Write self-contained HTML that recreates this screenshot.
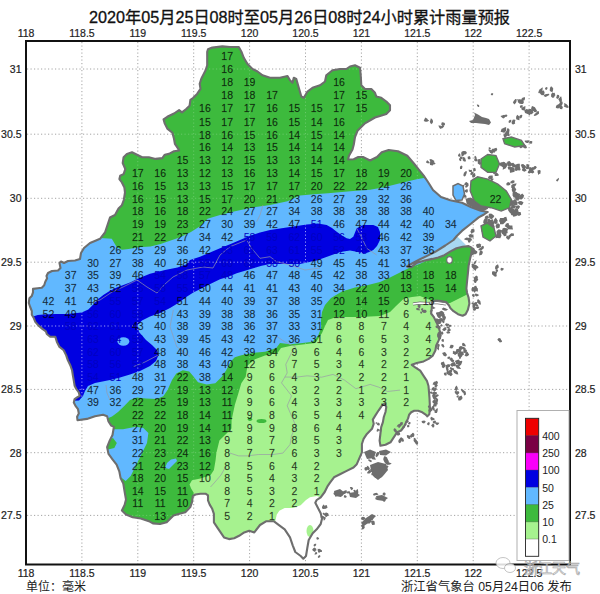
<!DOCTYPE html>
<html><head><meta charset="utf-8"><title>24小时累计雨量预报</title><style>
html,body{margin:0;padding:0;background:#fff;}body{width:600px;height:594px;overflow:hidden;position:relative;}
svg{position:absolute;left:0;top:0;display:block;}
.t{font-family:"Liberation Sans","Noto Sans CJK SC",sans-serif;}
.n text{fill:#000;fill-opacity:.74;stroke:#000;stroke-opacity:.35;stroke-width:.35px;}
.n text.d{fill:#0000c2;fill-opacity:1;stroke:none;}
</style></head><body>
<svg width="600" height="594" viewBox="0 0 600 594">
<defs>
<clipPath id="prov"><path d="M207.2,51.8 L208.0,49.3 L212.3,47.6 L222.4,46.4 L230.0,47.0 L238.8,47.0 L241.3,51.5 L243.8,57.8 L247.5,64.0 L252.5,69.0 L257.5,71.5 L262.5,75.3 L270.0,77.8 L280.0,77.8 L287.5,76.0 L290.0,80.3 L292.5,82.8 L293.8,77.8 L296.3,79.0 L298.8,87.8 L301.3,96.5 L303.8,97.8 L307.5,91.5 L312.5,87.8 L320.0,85.3 L325.0,81.5 L326.3,75.3 L332.5,70.3 L340.0,69.0 L346.3,69.0 L350.0,66.5 L355.0,65.3 L360.0,67.8 L360.8,76.5 L361.3,85.3 L365.0,89.0 L371.3,89.0 L375.0,92.8 L376.3,96.5 L381.3,97.8 L386.3,101.5 L390.0,105.3 L390.0,110.3 L386.3,114.0 L380.0,116.0 L375.0,117.5 L365.0,123.3 L357.5,130.8 L355.0,137.0 L353.8,144.5 L352.5,149.5 L349.0,155.8 L348.0,159.5 L353.7,159.3 L358.3,157.0 L363.0,157.0 L370.0,160.5 L377.0,157.0 L381.7,152.3 L388.7,150.0 L398.0,151.2 L407.3,155.8 L414.3,164.0 L419.0,169.8 L423.7,175.7 L428.0,182.0 L433.0,190.0 L441.0,197.0 L450.3,200.3 L462.0,202.7 L471.3,207.3 L480.7,210.8 L487.7,212.0 L484.0,214.5 L478.7,217.4 L470.3,224.2 L461.9,230.9 L456.8,236.0 L453.5,240.0 L445.3,245.5 L435.2,251.8 L427.6,255.6 L420.0,259.3 L412.0,263.5 L407.0,266.5 L411.1,267.3 L417.1,262.7 L424.7,260.5 L432.3,258.9 L438.3,257.4 L444.4,255.2 L450.5,251.4 L456.5,248.3 L462.6,246.8 L468.6,246.1 L471.7,247.6 L471.7,252.1 L470.2,258.2 L468.6,265.8 L467.9,273.3 L467.1,280.9 L466.4,288.5 L467.1,293.0 L468.6,297.6 L469.4,303.6 L467.9,309.7 L465.6,314.2 L462.6,315.8 L458.0,314.2 L453.5,311.2 L450.5,308.2 L448.9,305.2 L446.0,302.0 L441.0,301.0 L436.0,300.5 L432.0,302.0 L432.0,306.7 L431.1,313.5 L433.7,316.8 L436.2,321.9 L438.7,326.9 L440.4,333.7 L438.7,340.4 L436.2,345.5 L435.4,350.5 L432.8,355.6 L428.6,358.9 L423.6,361.4 L416.8,363.1 L411.8,364.8 L415.2,367.3 L420.2,370.7 L423.6,375.8 L426.9,380.8 L428.5,386.0 L429.0,392.0 L429.5,398.2 L429.8,404.2 L429.8,410.3 L429.3,414.3 L427.3,416.4 L425.3,414.3 L422.3,412.3 L418.2,410.8 L414.2,410.8 L411.2,412.3 L409.1,414.8 L408.1,418.4 L406.1,422.4 L404.1,426.5 L401.1,430.5 L397.2,432.2 L393.9,437.2 L390.5,442.3 L385.5,444.8 L380.4,445.7 L379.6,440.6 L380.4,433.9 L381.2,427.1 L382.9,422.1 L383.8,417.0 L385.5,412.0 L386.3,406.9 L384.6,403.6 L382.1,405.3 L378.7,410.3 L375.4,415.4 L372.8,419.6 L373.7,423.8 L372.0,428.8 L366.9,433.9 L363.6,438.9 L361.9,444.0 L361.9,452.4 L356.8,464.2 L353.5,467.5 L346.7,470.9 L340.0,474.3 L334.0,477.3 L330.0,482.7 L327.3,486.7 L324.7,492.0 L320.7,497.3 L316.7,500.0 L315.3,502.7 L318.0,508.0 L320.7,513.3 L322.0,518.7 L320.7,524.0 L316.7,529.3 L312.7,533.3 L308.7,540.0 L307.3,548.0 L306.0,556.0 L303.3,558.7 L300.7,556.0 L295.3,552.0 L292.7,545.3 L290.0,537.3 L284.7,529.3 L279.3,525.3 L274.0,521.3 L266.0,521.3 L260.0,525.0 L254.3,532.4 L249.2,530.7 L244.2,532.4 L239.1,535.8 L234.1,538.3 L229.0,539.1 L224.0,537.4 L220.6,532.4 L217.2,527.3 L213.9,522.3 L213.9,513.9 L212.2,508.8 L209.7,504.6 L208.0,500.4 L208.0,495.4 L205.5,493.7 L200.4,493.7 L195.4,494.5 L192.8,496.2 L192.0,502.1 L190.3,507.1 L185.3,512.2 L178.5,513.9 L173.5,515.6 L166.7,522.3 L160.0,524.0 L152.9,523.4 L148.9,521.2 L140.8,518.5 L132.7,517.2 L126.0,514.5 L121.9,510.4 L124.6,505.0 L126.0,499.6 L124.6,491.6 L123.3,483.5 L120.6,478.1 L119.3,471.4 L116.6,464.6 L112.5,459.3 L108.5,453.9 L107.1,447.1 L109.8,440.4 L112.5,435.0 L113.9,426.9 L111.2,425.6 L108.5,421.5 L107.1,416.2 L103.1,414.8 L95.0,416.2 L86.9,418.9 L77.5,420.2 L77.1,416.8 L78.8,413.4 L78.0,409.2 L75.5,405.9 L73.8,402.5 L74.6,399.1 L77.1,397.4 L79.7,395.8 L78.8,392.4 L76.3,389.0 L74.6,385.7 L73.8,380.6 L72.9,375.6 L72.1,370.5 L70.4,365.5 L67.9,360.4 L66.2,355.4 L63.7,350.3 L59.5,346.9 L56.9,341.9 L55.3,336.8 L50.2,336.8 L46.8,334.0 L45.9,331.3 L42.4,328.9 L38.3,325.4 L35.3,321.9 L33.6,317.7 L31.8,314.8 L31.8,311.2 L30.0,306.5 L28.8,303.0 L29.4,298.3 L31.8,295.9 L33.0,292.4 L33.0,288.9 L37.7,288.3 L41.8,287.7 L44.2,285.3 L45.3,281.8 L47.1,278.2 L46.5,276.0 L48.0,273.0 L52.0,271.0 L58.0,270.5 L60.5,268.0 L59.5,263.0 L61.0,261.5 L64.0,263.0 L68.0,261.0 L75.0,260.5 L80.0,259.0 L81.0,253.0 L84.0,248.0 L90.0,243.0 L96.0,240.5 L100.0,238.8 L105.0,232.5 L107.5,225.0 L110.0,217.5 L115.0,215.0 L118.5,208.5 L121.9,205.2 L123.8,200.0 L125.0,192.5 L124.4,187.5 L121.9,182.5 L119.4,179.1 L120.2,175.8 L123.6,174.1 L125.3,169.0 L122.7,163.1 L123.6,157.2 L126.9,153.9 L132.0,152.2 L137.0,154.7 L142.1,157.2 L148.8,157.2 L155.6,158.9 L162.3,158.1 L164.8,154.7 L169.0,153.9 L174.0,151.3 L179.1,150.5 L178.3,148.8 L174.9,143.8 L174.0,138.7 L172.4,132.8 L167.3,128.6 L164.8,123.6 L163.6,119.4 L167.3,116.8 L174.0,113.5 L179.1,110.1 L182.0,112.4 L186.2,109.0 L189.6,105.7 L190.4,99.8 L193.0,98.1 L197.1,93.9 L200.5,88.8 L199.7,83.8 L201.3,78.7 L205.6,70.3 L207.2,65.3Z"/></clipPath>
<clipPath id="frame"><rect x="27" y="42" width="542" height="522"/></clipPath>
</defs>
<rect x="0" y="0" width="600" height="594" fill="#fff"/>
<g clip-path="url(#frame)" stroke="#a4a4a4" stroke-width="1" stroke-dasharray="1.2 2.3" fill="none"><line x1="81.9" y1="42" x2="81.9" y2="564"/><line x1="137.8" y1="42" x2="137.8" y2="564"/><line x1="193.7" y1="42" x2="193.7" y2="564"/><line x1="249.6" y1="42" x2="249.6" y2="564"/><line x1="305.5" y1="42" x2="305.5" y2="564"/><line x1="361.4" y1="42" x2="361.4" y2="564"/><line x1="417.3" y1="42" x2="417.3" y2="564"/><line x1="473.2" y1="42" x2="473.2" y2="564"/><line x1="529.1" y1="42" x2="529.1" y2="564"/><line x1="27" y1="69.0" x2="569" y2="69.0"/><line x1="27" y1="134.2" x2="569" y2="134.2"/><line x1="27" y1="198.3" x2="569" y2="198.3"/><line x1="27" y1="262.2" x2="569" y2="262.2"/><line x1="27" y1="326.0" x2="569" y2="326.0"/><line x1="27" y1="389.4" x2="569" y2="389.4"/><line x1="27" y1="452.7" x2="569" y2="452.7"/><line x1="27" y1="515.4" x2="569" y2="515.4"/></g>
<g clip-path="url(#prov)">
<rect x="0" y="0" width="600" height="594" fill="#3dba3d"/>
<g stroke="#ffffff" stroke-opacity="0.22" stroke-width="1" stroke-dasharray="1.2 2.3" fill="none"><line x1="81.9" y1="42" x2="81.9" y2="564"/><line x1="137.8" y1="42" x2="137.8" y2="564"/><line x1="193.7" y1="42" x2="193.7" y2="564"/><line x1="249.6" y1="42" x2="249.6" y2="564"/><line x1="305.5" y1="42" x2="305.5" y2="564"/><line x1="361.4" y1="42" x2="361.4" y2="564"/><line x1="417.3" y1="42" x2="417.3" y2="564"/><line x1="473.2" y1="42" x2="473.2" y2="564"/><line x1="529.1" y1="42" x2="529.1" y2="564"/><line x1="27" y1="69.0" x2="569" y2="69.0"/><line x1="27" y1="134.2" x2="569" y2="134.2"/><line x1="27" y1="198.3" x2="569" y2="198.3"/><line x1="27" y1="262.2" x2="569" y2="262.2"/><line x1="27" y1="326.0" x2="569" y2="326.0"/><line x1="27" y1="389.4" x2="569" y2="389.4"/><line x1="27" y1="452.7" x2="569" y2="452.7"/><line x1="27" y1="515.4" x2="569" y2="515.4"/></g>
<path d="M600.0,292.0 L470.0,293.0 L460.0,298.0 L450.0,303.0 L440.0,304.0 L430.0,300.0 L420.0,296.0 L412.0,297.0 L404.0,298.5 L396.0,306.0 L390.0,312.0 L380.0,316.0 L360.0,317.0 L336.0,317.0 L328.0,320.0 L325.0,326.0 L322.0,333.0 L318.0,339.0 L315.0,343.0 L302.5,344.5 L290.0,346.0 L281.0,348.0 L277.5,353.0 L265.0,355.5 L255.0,359.3 L247.5,365.5 L245.7,376.8 L241.3,383.3 L238.1,394.2 L234.8,405.0 L231.6,420.0 L231.5,428.5 L225.5,434.5 L219.4,440.6 L216.4,452.7 L215.6,460.0 L213.9,470.1 L210.5,475.2 L200.4,478.5 L192.0,480.2 L189.5,484.4 L191.1,488.6 L193.7,492.8 L195.0,600.0 L600.0,600.0Z" fill="#a6f28f"/>
<path d="M275.3,521.3 L276.7,514.7 L279.3,510.7 L284.7,508.0 L292.7,508.0 L300.7,505.3 L306.0,500.0 L310.0,497.3 L316.7,496.0 L320.7,497.3 L340.0,500.0 L340.0,580.0 L260.0,580.0 L262.0,523.0Z" fill="#ffffff"/>
<ellipse cx="310" cy="531" rx="3.5" ry="6" fill="#a6f28f"/>
<path d="M20.0,240.0 L95.0,239.0 L100.0,238.0 L111.8,238.8 L116.8,247.2 L121.9,249.8 L128.6,248.9 L138.7,247.2 L150.5,246.4 L160.6,243.9 L170.7,240.5 L180.8,237.1 L190.9,232.1 L200.0,226.2 L207.5,218.8 L220.0,215.0 L235.0,211.3 L252.5,207.5 L270.0,205.0 L287.5,201.3 L300.0,195.5 L314.0,194.3 L328.0,193.2 L342.0,192.0 L356.0,190.8 L370.0,189.7 L384.0,187.3 L398.0,183.8 L407.3,181.5 L416.7,179.2 L423.7,178.0 L430.7,180.3 L440.0,185.0 L500.0,190.0 L500.0,235.0 L470.0,243.0 L466.3,245.0 L460.0,247.5 L450.0,251.3 L440.0,255.0 L430.0,258.8 L420.0,263.8 L410.0,267.5 L400.0,272.5 L390.0,277.5 L380.0,282.0 L366.0,285.5 L355.0,287.5 L342.0,291.5 L331.0,298.0 L325.0,305.0 L322.0,312.0 L321.0,320.0 L321.0,328.0 L318.0,336.0 L312.5,341.8 L302.5,343.0 L290.0,344.3 L280.0,343.0 L276.3,348.0 L265.0,351.8 L252.5,353.0 L241.3,355.2 L234.8,357.3 L230.5,361.7 L226.2,370.3 L221.8,376.8 L215.3,383.3 L206.7,384.4 L198.0,382.3 L193.7,376.8 L189.3,371.4 L182.8,370.3 L176.3,373.6 L172.0,380.1 L167.7,389.8 L163.3,396.3 L156.8,399.0 L146.0,398.5 L137.0,397.5 L130.0,400.0 L124.3,406.0 L118.0,412.0 L112.0,416.5 L106.0,419.0 L60.0,425.0 L20.0,300.0Z" fill="#61b8ff"/>
<path d="M114.3,429.2 L123.0,429.2 L135.8,426.7 L143.3,428.0 L148.4,433.0 L147.0,443.0 L140.8,455.6 L135.8,465.8 L130.7,475.9 L125.7,481.0 L118.0,475.0 L100.0,460.0 L100.0,452.0 L108.0,449.4 L114.3,448.0 L116.8,443.0 L113.0,438.0 L106.7,440.6 L100.0,440.0 L100.0,430.0Z" fill="#61b8ff"/>
<path d="M165.0,468.0 L167.0,463.0 L171.0,459.5 L176.0,458.5 L177.0,461.0 L173.0,465.0 L169.0,469.0Z" fill="#61b8ff"/>
<path d="M20.0,319.0 L31.8,317.0 L37.7,315.0 L43.6,314.5 L55.4,314.0 L67.1,314.0 L81.7,312.5 L88.3,309.5 L93.3,304.5 L98.3,299.0 L103.3,295.0 L110.0,290.8 L116.7,287.5 L123.3,285.0 L130.0,282.5 L137.5,278.8 L150.0,273.8 L165.0,270.0 L177.5,267.5 L186.0,264.5 L190.0,260.0 L200.0,256.7 L210.0,252.5 L220.0,248.3 L230.0,244.2 L240.0,240.0 L250.0,235.8 L260.0,232.5 L270.0,230.0 L280.0,228.5 L290.0,227.0 L306.7,224.5 L318.0,223.5 L326.7,225.0 L332.0,228.0 L336.7,231.7 L342.0,235.5 L346.7,238.3 L350.0,239.0 L353.3,236.7 L356.7,228.3 L363.3,225.0 L373.3,225.0 L378.0,227.0 L380.0,232.0 L380.0,240.0 L377.0,246.0 L373.3,250.0 L368.0,252.5 L363.3,253.3 L356.7,251.7 L350.0,250.5 L340.0,252.0 L333.3,254.5 L316.7,260.5 L300.0,264.0 L283.3,264.0 L270.0,264.0 L261.7,265.8 L253.3,268.3 L245.0,270.8 L236.7,273.3 L228.3,276.7 L220.0,279.2 L213.3,282.5 L206.7,285.8 L200.0,289.2 L193.3,292.5 L186.7,296.7 L180.0,301.7 L175.0,305.0 L170.0,308.0 L160.0,313.0 L150.0,316.5 L142.0,320.5 L137.5,325.0 L139.0,332.0 L146.0,340.0 L152.0,345.0 L157.0,350.0 L158.5,355.0 L156.0,361.0 L150.0,366.0 L140.0,371.0 L130.0,374.5 L120.0,377.5 L110.0,380.0 L100.0,382.0 L95.0,383.0 L88.0,386.0 L85.0,391.0 L83.0,396.0 L79.0,400.5 L70.0,401.0 L40.0,360.0 L20.0,330.0Z" fill="#0000e1"/>
<clipPath id="dbc"><path d="M20.0,319.0 L31.8,317.0 L37.7,315.0 L43.6,314.5 L55.4,314.0 L67.1,314.0 L81.7,312.5 L88.3,309.5 L93.3,304.5 L98.3,299.0 L103.3,295.0 L110.0,290.8 L116.7,287.5 L123.3,285.0 L130.0,282.5 L137.5,278.8 L150.0,273.8 L165.0,270.0 L177.5,267.5 L186.0,264.5 L190.0,260.0 L200.0,256.7 L210.0,252.5 L220.0,248.3 L230.0,244.2 L240.0,240.0 L250.0,235.8 L260.0,232.5 L270.0,230.0 L280.0,228.5 L290.0,227.0 L306.7,224.5 L318.0,223.5 L326.7,225.0 L332.0,228.0 L336.7,231.7 L342.0,235.5 L346.7,238.3 L350.0,239.0 L353.3,236.7 L356.7,228.3 L363.3,225.0 L373.3,225.0 L378.0,227.0 L380.0,232.0 L380.0,240.0 L377.0,246.0 L373.3,250.0 L368.0,252.5 L363.3,253.3 L356.7,251.7 L350.0,250.5 L340.0,252.0 L333.3,254.5 L316.7,260.5 L300.0,264.0 L283.3,264.0 L270.0,264.0 L261.7,265.8 L253.3,268.3 L245.0,270.8 L236.7,273.3 L228.3,276.7 L220.0,279.2 L213.3,282.5 L206.7,285.8 L200.0,289.2 L193.3,292.5 L186.7,296.7 L180.0,301.7 L175.0,305.0 L170.0,308.0 L160.0,313.0 L150.0,316.5 L142.0,320.5 L137.5,325.0 L139.0,332.0 L146.0,340.0 L152.0,345.0 L157.0,350.0 L158.5,355.0 L156.0,361.0 L150.0,366.0 L140.0,371.0 L130.0,374.5 L120.0,377.5 L110.0,380.0 L100.0,382.0 L95.0,383.0 L88.0,386.0 L85.0,391.0 L83.0,396.0 L79.0,400.5 L70.0,401.0 L40.0,360.0 L20.0,330.0Z"/></clipPath>
<g clip-path="url(#dbc)" stroke="#d0d0ff" stroke-opacity="0.75" stroke-width="1" stroke-dasharray="1.2 2.3" fill="none"><line x1="81.9" y1="42" x2="81.9" y2="564"/><line x1="137.8" y1="42" x2="137.8" y2="564"/><line x1="193.7" y1="42" x2="193.7" y2="564"/><line x1="249.6" y1="42" x2="249.6" y2="564"/><line x1="305.5" y1="42" x2="305.5" y2="564"/><line x1="361.4" y1="42" x2="361.4" y2="564"/><line x1="417.3" y1="42" x2="417.3" y2="564"/><line x1="473.2" y1="42" x2="473.2" y2="564"/><line x1="529.1" y1="42" x2="529.1" y2="564"/><line x1="27" y1="69.0" x2="569" y2="69.0"/><line x1="27" y1="134.2" x2="569" y2="134.2"/><line x1="27" y1="198.3" x2="569" y2="198.3"/><line x1="27" y1="262.2" x2="569" y2="262.2"/><line x1="27" y1="326.0" x2="569" y2="326.0"/><line x1="27" y1="389.4" x2="569" y2="389.4"/><line x1="27" y1="452.7" x2="569" y2="452.7"/><line x1="27" y1="515.4" x2="569" y2="515.4"/></g>
<ellipse cx="123.4" cy="341.5" rx="6" ry="4.2" fill="#61b8ff"/>
<ellipse cx="261.5" cy="421" rx="5" ry="2" fill="#3dba3d"/><ellipse cx="250" cy="419.3" rx="2.2" ry="1.8" fill="#3dba3d"/>
<g fill="none" stroke="#9898a8" stroke-opacity="0.85" stroke-width="0.8" stroke-linejoin="round">
<path d="M93.0,302.0 L100.0,300.0 L112.0,292.0 L123.0,287.0 L137.0,280.0 L147.0,287.0 L157.0,293.0 L165.0,284.0 L173.0,277.0 L187.0,270.0 L203.0,267.0 L213.0,268.0 L220.0,255.0 L230.0,246.7 L246.7,240.0 L251.7,248.3 L260.0,258.3 L270.0,256.7 L276.7,261.7 L290.0,265.0 L305.0,270.0 L320.0,268.0"/>
<path d="M256.7,221.7 L260.0,215.0 L263.0,205.0"/>
<path d="M356.7,228.3 L362.0,238.0 L366.7,248.3 L376.7,255.0"/>
<path d="M173.3,310.0 L170.0,326.7 L176.7,346.7 L190.0,356.7"/>
<path d="M133.3,366.7 L145.0,362.0 L158.3,355.0"/>
<path d="M275.8,335.7 L285.0,342.0 L295.8,347.2 L291.5,352.9 L285.8,364.3 L287.2,372.9 L281.5,382.9 L287.2,390.1 L291.5,395.8 L287.2,405.8 L291.5,415.9 L295.8,425.9 L291.5,435.9 L290.1,444.5 L282.9,453.1 L272.9,454.5 L258.6,454.5 L247.2,455.9 L238.6,455.9 L230.0,453.1"/>
<path d="M285.0,377.0 L295.8,377.2 L307.3,375.8 L321.6,377.2 L333.0,374.4 L344.5,380.1 L355.9,388.7 L370.2,384.4 L378.8,387.2 L387.4,391.5 L400.0,390.1"/>
<path d="M225.7,466.7 L221.0,475.0 L215.0,482.0 L210.5,487.0"/>
<path d="M106.0,385.0 L107.0,393.0 L110.0,400.0"/>
</g>
</g>
<path d="M456.8,236.0 L453.5,240.0 L445.3,245.5 L435.2,251.8 L427.6,255.6 L420.0,259.3 L412.0,263.5 L407.0,266.5 L411.1,267.3 L417.1,262.7 L424.7,260.5 L432.3,258.9 L438.3,257.4 L444.4,255.2 L450.5,251.4 L456.5,248.3 L462.6,246.8 L466.0,245.0 L461.0,240.0Z" fill="#a8d8f2"/>
<path d="M413,304 L420,303 L428,303.5 L436,302.5 L446,304" fill="none" stroke="#6e6e6e" stroke-width="3"/>
<path d="M413,304 L420,303 L428,303.5 L436,302.5 L446,304" fill="none" stroke="#fff" stroke-width="1.3"/>
<ellipse cx="449.5" cy="260" rx="2.8" ry="3.4" fill="#fff" stroke="#6e6e6e" stroke-width="1.2"/>
<path d="M207.2,51.8 L208.0,49.3 L212.3,47.6 L222.4,46.4 L230.0,47.0 L238.8,47.0 L241.3,51.5 L243.8,57.8 L247.5,64.0 L252.5,69.0 L257.5,71.5 L262.5,75.3 L270.0,77.8 L280.0,77.8 L287.5,76.0 L290.0,80.3 L292.5,82.8 L293.8,77.8 L296.3,79.0 L298.8,87.8 L301.3,96.5 L303.8,97.8 L307.5,91.5 L312.5,87.8 L320.0,85.3 L325.0,81.5 L326.3,75.3 L332.5,70.3 L340.0,69.0 L346.3,69.0 L350.0,66.5 L355.0,65.3 L360.0,67.8 L360.8,76.5 L361.3,85.3 L365.0,89.0 L371.3,89.0 L375.0,92.8 L376.3,96.5 L381.3,97.8 L386.3,101.5 L390.0,105.3 L390.0,110.3 L386.3,114.0 L380.0,116.0 L375.0,117.5 L365.0,123.3 L357.5,130.8 L355.0,137.0 L353.8,144.5 L352.5,149.5 L349.0,155.8 L348.0,159.5 L353.7,159.3 L358.3,157.0 L363.0,157.0 L370.0,160.5 L377.0,157.0 L381.7,152.3 L388.7,150.0 L398.0,151.2 L407.3,155.8 L414.3,164.0 L419.0,169.8 L423.7,175.7 L428.0,182.0 L433.0,190.0 L441.0,197.0 L450.3,200.3 L462.0,202.7 L471.3,207.3 L480.7,210.8 L487.7,212.0 L484.0,214.5 L478.7,217.4 L470.3,224.2 L461.9,230.9 L456.8,236.0 L453.5,240.0 L445.3,245.5 L435.2,251.8 L427.6,255.6 L420.0,259.3 L412.0,263.5 L407.0,266.5 L411.1,267.3 L417.1,262.7 L424.7,260.5 L432.3,258.9 L438.3,257.4 L444.4,255.2 L450.5,251.4 L456.5,248.3 L462.6,246.8 L468.6,246.1 L471.7,247.6 L471.7,252.1 L470.2,258.2 L468.6,265.8 L467.9,273.3 L467.1,280.9 L466.4,288.5 L467.1,293.0 L468.6,297.6 L469.4,303.6 L467.9,309.7 L465.6,314.2 L462.6,315.8 L458.0,314.2 L453.5,311.2 L450.5,308.2 L448.9,305.2 L446.0,302.0 L441.0,301.0 L436.0,300.5 L432.0,302.0 L432.0,306.7 L431.1,313.5 L433.7,316.8 L436.2,321.9 L438.7,326.9 L440.4,333.7 L438.7,340.4 L436.2,345.5 L435.4,350.5 L432.8,355.6 L428.6,358.9 L423.6,361.4 L416.8,363.1 L411.8,364.8 L415.2,367.3 L420.2,370.7 L423.6,375.8 L426.9,380.8 L428.5,386.0 L429.0,392.0 L429.5,398.2 L429.8,404.2 L429.8,410.3 L429.3,414.3 L427.3,416.4 L425.3,414.3 L422.3,412.3 L418.2,410.8 L414.2,410.8 L411.2,412.3 L409.1,414.8 L408.1,418.4 L406.1,422.4 L404.1,426.5 L401.1,430.5 L397.2,432.2 L393.9,437.2 L390.5,442.3 L385.5,444.8 L380.4,445.7 L379.6,440.6 L380.4,433.9 L381.2,427.1 L382.9,422.1 L383.8,417.0 L385.5,412.0 L386.3,406.9 L384.6,403.6 L382.1,405.3 L378.7,410.3 L375.4,415.4 L372.8,419.6 L373.7,423.8 L372.0,428.8 L366.9,433.9 L363.6,438.9 L361.9,444.0 L361.9,452.4 L356.8,464.2 L353.5,467.5 L346.7,470.9 L340.0,474.3 L334.0,477.3 L330.0,482.7 L327.3,486.7 L324.7,492.0 L320.7,497.3 L316.7,500.0 L315.3,502.7 L318.0,508.0 L320.7,513.3 L322.0,518.7 L320.7,524.0 L316.7,529.3 L312.7,533.3 L308.7,540.0 L307.3,548.0 L306.0,556.0 L303.3,558.7 L300.7,556.0 L295.3,552.0 L292.7,545.3 L290.0,537.3 L284.7,529.3 L279.3,525.3 L274.0,521.3 L266.0,521.3 L260.0,525.0 L254.3,532.4 L249.2,530.7 L244.2,532.4 L239.1,535.8 L234.1,538.3 L229.0,539.1 L224.0,537.4 L220.6,532.4 L217.2,527.3 L213.9,522.3 L213.9,513.9 L212.2,508.8 L209.7,504.6 L208.0,500.4 L208.0,495.4 L205.5,493.7 L200.4,493.7 L195.4,494.5 L192.8,496.2 L192.0,502.1 L190.3,507.1 L185.3,512.2 L178.5,513.9 L173.5,515.6 L166.7,522.3 L160.0,524.0 L152.9,523.4 L148.9,521.2 L140.8,518.5 L132.7,517.2 L126.0,514.5 L121.9,510.4 L124.6,505.0 L126.0,499.6 L124.6,491.6 L123.3,483.5 L120.6,478.1 L119.3,471.4 L116.6,464.6 L112.5,459.3 L108.5,453.9 L107.1,447.1 L109.8,440.4 L112.5,435.0 L113.9,426.9 L111.2,425.6 L108.5,421.5 L107.1,416.2 L103.1,414.8 L95.0,416.2 L86.9,418.9 L77.5,420.2 L77.1,416.8 L78.8,413.4 L78.0,409.2 L75.5,405.9 L73.8,402.5 L74.6,399.1 L77.1,397.4 L79.7,395.8 L78.8,392.4 L76.3,389.0 L74.6,385.7 L73.8,380.6 L72.9,375.6 L72.1,370.5 L70.4,365.5 L67.9,360.4 L66.2,355.4 L63.7,350.3 L59.5,346.9 L56.9,341.9 L55.3,336.8 L50.2,336.8 L46.8,334.0 L45.9,331.3 L42.4,328.9 L38.3,325.4 L35.3,321.9 L33.6,317.7 L31.8,314.8 L31.8,311.2 L30.0,306.5 L28.8,303.0 L29.4,298.3 L31.8,295.9 L33.0,292.4 L33.0,288.9 L37.7,288.3 L41.8,287.7 L44.2,285.3 L45.3,281.8 L47.1,278.2 L46.5,276.0 L48.0,273.0 L52.0,271.0 L58.0,270.5 L60.5,268.0 L59.5,263.0 L61.0,261.5 L64.0,263.0 L68.0,261.0 L75.0,260.5 L80.0,259.0 L81.0,253.0 L84.0,248.0 L90.0,243.0 L96.0,240.5 L100.0,238.8 L105.0,232.5 L107.5,225.0 L110.0,217.5 L115.0,215.0 L118.5,208.5 L121.9,205.2 L123.8,200.0 L125.0,192.5 L124.4,187.5 L121.9,182.5 L119.4,179.1 L120.2,175.8 L123.6,174.1 L125.3,169.0 L122.7,163.1 L123.6,157.2 L126.9,153.9 L132.0,152.2 L137.0,154.7 L142.1,157.2 L148.8,157.2 L155.6,158.9 L162.3,158.1 L164.8,154.7 L169.0,153.9 L174.0,151.3 L179.1,150.5 L178.3,148.8 L174.9,143.8 L174.0,138.7 L172.4,132.8 L167.3,128.6 L164.8,123.6 L163.6,119.4 L167.3,116.8 L174.0,113.5 L179.1,110.1 L182.0,112.4 L186.2,109.0 L189.6,105.7 L190.4,99.8 L193.0,98.1 L197.1,93.9 L200.5,88.8 L199.7,83.8 L201.3,78.7 L205.6,70.3 L207.2,65.3Z" fill="none" stroke="#6e6e6e" stroke-width="2.1" stroke-linejoin="round"/>
<g>
<path d="M364.0,452.0 L370.0,449.5 L376.0,452.0 L374.0,458.0 L367.0,459.0Z" fill="#6e6e6e"/>
<path d="M370.0,465.0 L378.0,462.0 L386.0,464.0 L388.0,470.0 L383.0,476.0 L378.0,480.0 L373.0,476.0 L371.0,470.0Z" fill="#6e6e6e"/>
<path d="M379.0,451.0 L386.0,449.5 L391.0,452.0 L386.0,455.5 L380.0,455.0Z" fill="#6e6e6e"/>
<path d="M334.0,491.0 L340.0,489.0 L345.0,493.0 L341.0,497.0 L335.0,496.0Z" fill="#6e6e6e"/>
<path d="M349.0,493.0 L355.0,492.0 L360.0,495.0 L356.0,498.0 L350.0,497.0Z" fill="#6e6e6e"/>
<path d="M376.0,496.0 L382.0,495.0 L388.0,498.0 L384.0,501.0 L377.0,500.0Z" fill="#6e6e6e"/>
<path d="M361.0,523.0 L366.0,518.0 L372.0,514.0 L376.0,516.0 L371.0,521.0 L364.0,526.0Z" fill="#6e6e6e"/>
<path d="M469.0,121.0 L473.0,120.0 L475.0,115.0 L474.0,112.4 L478.0,114.4 L482.0,117.0 L486.0,118.0 L489.0,119.0 L491.0,122.4 L489.0,125.0 L485.0,124.0 L480.0,123.6 L476.0,123.0 L471.0,123.0Z" fill="#6e6e6e"/>
<path d="M465.5,198.7 L470.5,197.4 L478.1,201.2 L485.7,203.7 L488.2,208.8 L483.1,211.3 L475.6,208.8 L470.5,206.3 L466.7,203.7Z" fill="#6e6e6e"/>
<path d="M538.2,93.2 L538.8,90.8 L539.9,89.3 L542.6,87.3 L542.7,89.1 L541.9,91.4 L540.8,92.3Z" fill="#6e6e6e"/>
<path d="M538.8,92.7 L540.7,91.1 L542.1,90.8 L543.3,90.9 L544.0,93.3 L543.2,94.6 L540.4,93.7Z" fill="#6e6e6e"/>
<path d="M541.8,95.2 L540.4,94.0 L541.0,92.2 L542.2,90.8 L543.9,90.6 L544.6,92.7 L544.0,95.1Z" fill="#6e6e6e"/>
<path d="M543.5,95.9 L544.6,94.5 L546.6,94.0 L549.0,93.8 L549.3,94.9 L547.0,96.3 L545.7,97.0Z" fill="#6e6e6e"/>
<path d="M551.6,91.4 L550.6,90.9 L549.9,88.0 L550.9,86.4 L551.6,86.4 L553.2,88.3 L553.0,90.4Z" fill="#6e6e6e"/>
<path d="M552.8,91.7 L550.8,91.8 L549.8,90.2 L549.8,89.1 L550.6,88.1 L551.8,88.6 L552.7,90.4Z" fill="#6e6e6e"/>
<path d="M547.5,88.8 L546.4,90.0 L545.4,89.5 L545.0,88.2 L545.9,87.2 L547.2,87.0 L547.4,88.2Z" fill="#6e6e6e"/>
<path d="M551.8,97.3 L551.4,95.6 L551.3,93.9 L552.6,92.3 L553.8,93.6 L553.7,94.8 L552.9,97.1Z" fill="#6e6e6e"/>
<path d="M557.9,99.0 L556.1,98.0 L556.6,96.6 L557.0,94.8 L558.9,94.9 L559.4,96.5 L558.6,98.2Z" fill="#6e6e6e"/>
<path d="M552.8,97.9 L551.0,96.2 L551.6,94.2 L553.2,92.9 L554.7,92.8 L554.9,95.2 L554.2,97.3Z" fill="#6e6e6e"/>
<path d="M560.2,103.6 L559.1,100.6 L558.3,99.4 L560.3,96.8 L561.3,96.4 L561.9,99.7 L561.8,101.8Z" fill="#6e6e6e"/>
<path d="M555.4,95.4 L554.2,95.7 L552.9,95.3 L551.8,93.7 L553.0,93.0 L554.1,93.1 L555.2,94.5Z" fill="#6e6e6e"/>
<path d="M568.9,107.3 L567.2,107.9 L563.8,106.4 L564.4,105.3 L564.1,103.1 L566.3,104.0 L567.8,105.4Z" fill="#6e6e6e"/>
<path d="M558.9,106.5 L558.3,104.5 L559.8,102.9 L562.1,101.2 L562.8,102.9 L562.3,104.4 L561.1,106.6Z" fill="#6e6e6e"/>
<path d="M562.5,108.0 L562.2,109.3 L560.0,108.9 L559.3,106.9 L558.9,105.3 L561.6,105.8 L563.0,106.9Z" fill="#6e6e6e"/>
<path d="M555.8,107.8 L556.0,106.3 L557.0,104.7 L559.7,104.7 L560.3,105.8 L559.5,107.2 L557.4,108.4Z" fill="#6e6e6e"/>
<path d="M557.8,108.1 L557.2,106.1 L558.5,104.4 L559.7,104.2 L561.0,104.0 L560.9,105.7 L559.0,108.5Z" fill="#6e6e6e"/>
<path d="M521.3,100.8 L521.4,99.0 L522.5,97.8 L524.8,97.1 L525.0,98.7 L524.5,100.3 L522.1,101.3Z" fill="#6e6e6e"/>
<path d="M519.5,103.2 L517.7,101.9 L518.2,100.7 L519.6,99.6 L520.7,100.3 L520.7,101.4 L520.6,103.0Z" fill="#6e6e6e"/>
<path d="M522.9,103.3 L521.6,103.9 L519.2,103.6 L518.0,101.4 L517.1,99.0 L520.5,100.1 L524.0,101.8Z" fill="#6e6e6e"/>
<path d="M523.1,104.1 L520.9,103.8 L519.5,101.3 L519.2,99.3 L521.1,99.5 L522.8,100.4 L523.7,101.9Z" fill="#6e6e6e"/>
<path d="M514.2,104.5 L512.9,102.2 L514.3,100.3 L515.4,99.1 L516.5,99.1 L516.6,101.1 L515.9,103.1Z" fill="#6e6e6e"/>
<path d="M535.5,112.2 L534.2,112.1 L531.9,109.2 L531.4,106.9 L532.3,105.9 L534.9,107.2 L537.3,111.3Z" fill="#6e6e6e"/>
<path d="M530.0,115.4 L527.6,114.1 L525.0,112.9 L524.3,109.9 L526.8,109.0 L528.6,110.0 L530.7,112.3Z" fill="#6e6e6e"/>
<path d="M524.6,111.3 L526.9,110.1 L528.5,109.5 L530.0,110.2 L531.0,111.4 L528.8,113.6 L526.0,112.7Z" fill="#6e6e6e"/>
<path d="M521.5,109.4 L521.4,108.0 L523.6,106.8 L525.4,106.1 L525.3,108.2 L524.6,110.6 L522.7,110.2Z" fill="#6e6e6e"/>
<path d="M532.5,109.7 L531.9,108.2 L533.8,107.7 L534.7,108.0 L535.3,109.5 L534.6,110.9 L533.1,110.7Z" fill="#6e6e6e"/>
<path d="M527.5,112.6 L527.4,110.7 L528.5,109.7 L530.0,109.0 L531.8,110.1 L531.1,111.8 L530.1,112.8Z" fill="#6e6e6e"/>
<path d="M529.6,113.9 L528.3,111.9 L528.7,110.3 L531.1,109.9 L532.8,110.9 L533.6,112.5 L531.7,114.2Z" fill="#6e6e6e"/>
<path d="M522.5,107.8 L521.2,107.7 L520.0,107.7 L519.9,106.0 L520.4,105.4 L522.5,105.0 L522.7,106.3Z" fill="#6e6e6e"/>
<path d="M533.7,116.1 L534.5,114.1 L536.0,113.0 L537.4,112.6 L538.2,113.9 L537.1,115.1 L535.6,115.8Z" fill="#6e6e6e"/>
<path d="M535.0,110.4 L533.7,110.8 L532.3,110.9 L531.0,108.8 L531.9,107.6 L533.6,108.2 L534.8,109.0Z" fill="#6e6e6e"/>
<path d="M532.3,111.5 L531.1,113.5 L528.8,112.7 L528.5,110.8 L528.9,109.3 L530.7,108.9 L532.7,109.9Z" fill="#6e6e6e"/>
<path d="M536.6,114.1 L535.8,113.6 L537.0,111.6 L538.6,111.1 L539.0,112.3 L538.9,113.9 L537.8,114.2Z" fill="#6e6e6e"/>
<path d="M518.2,119.9 L516.2,119.3 L516.1,117.7 L517.1,114.8 L518.4,115.7 L519.6,116.8 L519.4,120.2Z" fill="#6e6e6e"/>
<path d="M517.5,118.0 L516.6,117.8 L516.4,116.4 L516.9,115.7 L517.7,115.8 L518.8,116.7 L518.4,118.0Z" fill="#6e6e6e"/>
<path d="M519.9,118.6 L519.1,117.1 L519.8,115.4 L521.1,114.7 L522.3,115.0 L522.1,116.5 L521.5,118.0Z" fill="#6e6e6e"/>
<path d="M504.3,118.0 L503.2,118.6 L501.6,117.2 L500.5,115.9 L502.8,115.3 L504.1,114.8 L505.1,117.0Z" fill="#6e6e6e"/>
<path d="M503.8,116.9 L503.3,115.5 L505.3,114.7 L506.6,114.5 L507.5,115.7 L506.6,116.8 L504.7,117.0Z" fill="#6e6e6e"/>
<path d="M509.6,122.9 L508.6,122.4 L508.7,121.0 L509.6,120.1 L511.1,119.7 L511.4,121.0 L511.0,121.9Z" fill="#6e6e6e"/>
<path d="M511.8,123.9 L511.9,122.5 L512.7,121.7 L513.6,120.6 L514.8,121.9 L515.2,123.5 L513.3,124.5Z" fill="#6e6e6e"/>
<path d="M512.6,123.9 L511.5,122.4 L512.7,119.7 L514.0,119.4 L515.5,120.0 L515.0,121.7 L513.7,123.6Z" fill="#6e6e6e"/>
<path d="M431.8,122.8 L430.6,122.3 L430.3,120.7 L430.7,118.5 L431.8,118.8 L433.0,120.4 L432.9,122.2Z" fill="#6e6e6e"/>
<path d="M423.7,121.0 L424.4,119.4 L426.8,119.4 L428.0,119.7 L429.2,120.8 L427.0,121.8 L425.5,121.8Z" fill="#6e6e6e"/>
<path d="M426.2,121.1 L425.1,120.4 L424.3,119.4 L425.3,117.6 L426.5,118.2 L427.6,119.3 L427.8,120.3Z" fill="#6e6e6e"/>
<path d="M432.2,123.3 L431.2,124.2 L430.2,122.8 L429.8,121.4 L430.2,120.6 L431.5,120.7 L433.0,123.0Z" fill="#6e6e6e"/>
<path d="M443.5,125.8 L442.5,125.9 L441.2,124.4 L441.7,122.5 L442.8,122.2 L444.8,123.1 L445.0,125.0Z" fill="#6e6e6e"/>
<path d="M440.2,128.9 L439.6,128.0 L438.8,126.8 L438.5,125.2 L440.1,125.7 L440.8,125.6 L441.3,128.2Z" fill="#6e6e6e"/>
<path d="M440.4,127.9 L441.0,126.2 L442.2,125.5 L444.0,125.4 L444.1,126.4 L442.7,127.9 L441.8,128.4Z" fill="#6e6e6e"/>
<path d="M490.8,94.4 L490.8,93.9 L491.9,92.9 L493.2,93.4 L493.2,94.1 L492.7,95.2 L491.5,95.2Z" fill="#6e6e6e"/>
<path d="M478.9,107.0 L478.2,107.0 L477.2,106.1 L476.8,104.4 L477.4,104.5 L479.0,105.1 L479.3,106.2Z" fill="#6e6e6e"/>
<path d="M503.7,132.5 L502.7,130.1 L502.2,128.7 L504.7,127.6 L506.1,127.1 L506.1,130.2 L505.7,131.5Z" fill="#6e6e6e"/>
<path d="M504.9,138.4 L503.4,135.4 L504.7,133.2 L507.3,130.1 L507.4,132.1 L508.6,133.6 L506.9,136.0Z" fill="#6e6e6e"/>
<path d="M509.9,135.4 L508.8,136.0 L507.5,136.0 L506.9,135.0 L506.9,133.1 L508.4,133.4 L509.5,134.2Z" fill="#6e6e6e"/>
<path d="M503.4,132.5 L500.6,131.8 L501.1,130.3 L501.6,128.7 L503.5,128.8 L505.1,129.3 L504.6,132.8Z" fill="#6e6e6e"/>
<path d="M509.2,134.6 L507.0,133.4 L506.8,131.1 L507.0,128.6 L508.3,128.2 L509.6,129.8 L509.2,132.5Z" fill="#6e6e6e"/>
<path d="M529.1,143.3 L529.2,141.9 L530.2,140.9 L531.2,141.1 L532.3,141.2 L532.1,143.4 L530.7,143.7Z" fill="#6e6e6e"/>
<path d="M519.5,147.9 L520.1,146.0 L521.7,144.4 L524.0,143.5 L524.6,145.5 L523.1,147.0 L521.1,148.2Z" fill="#6e6e6e"/>
<path d="M527.0,148.1 L525.0,148.5 L522.9,147.2 L522.4,145.6 L523.2,144.1 L525.2,145.0 L526.3,145.7Z" fill="#6e6e6e"/>
<path d="M529.7,141.2 L528.1,143.0 L526.7,143.1 L524.9,142.0 L524.7,140.6 L526.6,140.4 L528.3,140.2Z" fill="#6e6e6e"/>
<path d="M468.2,159.3 L467.7,158.2 L467.7,156.8 L469.5,156.1 L470.3,156.9 L470.6,158.4 L470.2,159.3Z" fill="#6e6e6e"/>
<path d="M465.0,161.5 L463.9,161.4 L463.0,160.2 L463.0,158.3 L464.0,157.9 L465.4,159.1 L466.1,161.2Z" fill="#6e6e6e"/>
<path d="M462.0,159.0 L460.3,159.4 L460.0,157.5 L459.9,156.5 L461.5,156.5 L462.5,156.9 L462.5,158.5Z" fill="#6e6e6e"/>
<path d="M467.0,153.1 L465.5,154.4 L462.7,154.3 L460.9,153.6 L461.7,151.8 L463.2,150.9 L466.1,151.5Z" fill="#6e6e6e"/>
<path d="M458.3,156.3 L458.0,155.2 L458.9,153.8 L459.8,153.3 L460.5,155.0 L460.4,155.7 L459.3,157.0Z" fill="#6e6e6e"/>
<path d="M460.6,161.3 L459.6,160.6 L459.0,160.0 L459.3,158.6 L460.0,157.8 L460.9,159.0 L461.4,160.4Z" fill="#6e6e6e"/>
<path d="M464.4,160.6 L462.8,160.5 L462.6,158.8 L462.4,157.5 L463.6,157.0 L465.4,158.0 L465.0,159.2Z" fill="#6e6e6e"/>
<path d="M461.2,155.3 L461.5,154.2 L462.7,152.1 L464.6,150.9 L466.2,152.0 L464.3,154.6 L462.8,156.5Z" fill="#6e6e6e"/>
<path d="M476.1,158.8 L474.6,158.5 L474.4,157.2 L474.7,155.9 L475.3,155.8 L476.2,156.8 L476.8,158.2Z" fill="#6e6e6e"/>
<path d="M477.9,164.1 L477.8,162.4 L477.3,159.7 L478.2,159.3 L479.9,159.0 L480.6,160.6 L480.4,163.4Z" fill="#6e6e6e"/>
<path d="M478.8,163.9 L478.5,163.0 L480.3,162.2 L481.3,162.6 L481.3,163.7 L480.5,164.6 L479.0,164.8Z" fill="#6e6e6e"/>
<path d="M476.4,161.4 L475.8,161.5 L474.2,160.6 L474.3,159.3 L475.2,158.1 L476.9,158.7 L477.5,160.5Z" fill="#6e6e6e"/>
<path d="M493.1,173.8 L493.1,172.0 L494.1,170.8 L495.7,170.4 L496.3,171.7 L495.9,172.5 L494.9,174.0Z" fill="#6e6e6e"/>
<path d="M494.8,176.0 L494.5,173.4 L496.5,172.7 L497.4,173.1 L498.8,174.8 L498.5,175.8 L496.7,175.9Z" fill="#6e6e6e"/>
<path d="M491.0,180.4 L490.4,179.0 L491.4,177.8 L492.6,178.5 L493.8,178.7 L492.9,180.3 L491.5,181.5Z" fill="#6e6e6e"/>
<path d="M488.4,178.8 L488.0,177.2 L489.3,175.7 L491.1,175.5 L492.7,175.5 L492.8,177.9 L490.4,179.3Z" fill="#6e6e6e"/>
<path d="M432.7,165.5 L430.1,165.1 L429.8,163.4 L430.4,161.3 L432.0,161.2 L433.6,162.1 L433.3,164.6Z" fill="#6e6e6e"/>
<path d="M435.6,163.7 L434.1,164.6 L431.9,164.1 L431.9,163.3 L432.0,162.4 L433.0,162.0 L434.6,162.4Z" fill="#6e6e6e"/>
<path d="M426.0,162.5 L426.5,161.1 L427.5,160.2 L429.0,161.7 L429.9,162.4 L428.2,163.6 L427.0,162.9Z" fill="#6e6e6e"/>
<path d="M432.5,162.9 L431.2,162.8 L429.8,160.3 L429.6,158.9 L431.0,159.2 L432.4,160.1 L433.1,161.1Z" fill="#6e6e6e"/>
<path d="M433.9,161.9 L432.8,163.4 L431.0,161.9 L430.0,160.3 L431.3,159.4 L432.4,159.7 L434.5,161.1Z" fill="#6e6e6e"/>
<path d="M460.5,169.1 L460.0,168.3 L460.0,167.3 L461.2,165.3 L462.1,166.5 L462.3,167.4 L461.9,169.0Z" fill="#6e6e6e"/>
<path d="M460.1,169.2 L459.9,167.8 L460.6,166.3 L461.5,166.1 L462.5,166.3 L461.7,167.8 L461.3,168.4Z" fill="#6e6e6e"/>
<path d="M464.1,176.6 L463.3,175.2 L464.0,172.7 L465.9,170.9 L466.9,171.6 L466.7,173.1 L465.5,176.1Z" fill="#6e6e6e"/>
<path d="M472.1,171.8 L470.9,172.0 L469.6,172.0 L468.8,171.0 L468.7,169.6 L470.6,169.9 L471.8,169.8Z" fill="#6e6e6e"/>
<path d="M470.8,175.3 L470.3,173.8 L471.2,172.0 L472.6,171.8 L473.1,172.2 L473.6,173.4 L471.6,174.9Z" fill="#6e6e6e"/>
<path d="M472.8,177.7 L472.1,176.4 L472.2,174.5 L473.6,173.5 L475.0,173.0 L475.5,175.8 L474.7,176.9Z" fill="#6e6e6e"/>
<path d="M473.3,171.6 L473.1,170.0 L473.4,168.8 L474.6,167.8 L475.7,168.7 L475.7,170.3 L474.7,171.2Z" fill="#6e6e6e"/>
<path d="M556.3,181.1 L556.1,179.9 L557.3,179.0 L558.6,177.7 L559.0,178.9 L558.4,180.2 L557.6,181.5Z" fill="#6e6e6e"/>
<path d="M508.7,166.5 L507.3,165.0 L506.9,163.0 L507.6,161.6 L509.7,161.1 L510.8,162.8 L511.0,165.6Z" fill="#6e6e6e"/>
<path d="M514.8,170.6 L514.7,168.8 L516.5,166.3 L518.3,166.2 L519.6,167.4 L518.7,169.4 L516.4,171.0Z" fill="#6e6e6e"/>
<path d="M508.2,169.4 L507.7,167.0 L508.5,166.4 L510.0,166.3 L511.3,167.0 L510.8,168.3 L510.1,169.5Z" fill="#6e6e6e"/>
<path d="M502.6,169.8 L503.1,166.9 L503.9,164.6 L506.3,162.5 L506.9,164.2 L507.1,165.5 L505.9,168.2Z" fill="#6e6e6e"/>
<path d="M507.5,165.5 L506.7,166.5 L505.4,166.5 L504.2,165.6 L504.9,164.1 L505.9,163.2 L507.3,164.2Z" fill="#6e6e6e"/>
<path d="M509.9,172.3 L509.9,170.7 L511.3,168.5 L512.9,167.3 L514.5,168.1 L514.1,171.9 L512.2,172.2Z" fill="#6e6e6e"/>
<path d="M519.6,170.4 L517.5,170.2 L515.8,167.4 L516.7,164.8 L517.9,164.3 L519.6,166.0 L520.6,170.0Z" fill="#6e6e6e"/>
<path d="M501.6,166.2 L501.9,164.6 L503.3,163.5 L505.2,164.5 L505.6,165.2 L504.3,167.7 L502.9,167.5Z" fill="#6e6e6e"/>
<path d="M500.3,164.2 L501.3,162.8 L503.4,161.8 L505.1,162.3 L505.2,164.3 L503.7,165.2 L501.9,165.2Z" fill="#6e6e6e"/>
<path d="M511.8,172.2 L510.3,172.9 L509.5,169.1 L510.9,167.0 L513.0,167.2 L514.6,169.2 L514.5,171.7Z" fill="#6e6e6e"/>
<path d="M504.8,166.1 L502.6,166.2 L500.8,166.3 L498.7,163.8 L500.1,162.7 L502.1,162.3 L504.8,164.8Z" fill="#6e6e6e"/>
<path d="M514.7,167.4 L512.6,167.1 L511.3,165.6 L510.3,164.6 L512.0,163.1 L513.3,162.7 L515.4,165.0Z" fill="#6e6e6e"/>
<path d="M513.7,166.4 L514.5,164.9 L517.9,163.7 L519.8,163.7 L519.9,165.4 L519.0,167.4 L516.0,168.3Z" fill="#6e6e6e"/>
<path d="M508.3,165.6 L508.2,164.4 L509.8,163.0 L510.9,162.5 L511.9,163.5 L512.2,164.8 L510.6,166.2Z" fill="#6e6e6e"/>
<path d="M539.2,174.0 L538.2,174.9 L537.7,171.8 L537.6,170.2 L538.7,170.3 L539.7,171.3 L540.8,173.3Z" fill="#6e6e6e"/>
<path d="M525.6,168.2 L526.6,166.6 L527.5,165.9 L529.1,166.5 L528.9,167.7 L528.6,169.3 L526.5,169.0Z" fill="#6e6e6e"/>
<path d="M527.7,173.0 L528.3,171.1 L529.1,170.2 L530.8,169.7 L532.0,170.2 L531.4,172.0 L529.8,173.4Z" fill="#6e6e6e"/>
<path d="M534.3,172.2 L532.5,173.4 L531.4,173.0 L529.7,170.9 L530.7,169.8 L532.2,169.3 L533.8,171.1Z" fill="#6e6e6e"/>
<path d="M522.0,170.2 L522.2,168.9 L524.5,167.6 L525.8,169.2 L526.8,170.2 L524.6,171.8 L522.7,171.0Z" fill="#6e6e6e"/>
<path d="M529.0,168.4 L526.7,168.7 L526.5,166.2 L526.0,164.4 L528.1,164.1 L529.0,165.0 L529.3,167.4Z" fill="#6e6e6e"/>
<path d="M530.6,170.8 L529.2,169.6 L529.1,168.8 L529.3,167.1 L530.9,167.2 L532.4,168.5 L531.5,169.8Z" fill="#6e6e6e"/>
<path d="M534.1,169.8 L533.0,169.6 L532.9,167.7 L534.2,166.2 L535.7,166.1 L536.9,167.2 L535.6,168.9Z" fill="#6e6e6e"/>
<path d="M529.1,171.4 L529.2,169.0 L530.7,168.2 L532.7,167.0 L533.9,169.1 L533.4,170.0 L531.1,172.5Z" fill="#6e6e6e"/>
<path d="M524.3,171.1 L522.7,168.8 L521.7,167.3 L521.6,164.3 L522.9,165.4 L524.7,166.3 L524.7,168.1Z" fill="#6e6e6e"/>
<path d="M524.2,168.3 L523.0,167.6 L521.6,166.7 L522.1,164.9 L523.4,164.2 L524.2,165.3 L524.9,167.2Z" fill="#6e6e6e"/>
<path d="M538.1,173.6 L537.6,172.1 L538.3,171.1 L539.2,170.1 L540.4,170.3 L540.7,171.7 L539.6,173.2Z" fill="#6e6e6e"/>
<path d="M525.1,168.2 L523.6,169.2 L522.4,167.1 L520.6,165.1 L522.5,164.0 L525.0,165.3 L526.4,167.3Z" fill="#6e6e6e"/>
<path d="M529.5,171.6 L529.8,170.4 L531.5,169.8 L532.6,170.2 L533.1,171.8 L532.0,172.9 L530.2,172.5Z" fill="#6e6e6e"/>
<path d="M519.0,199.3 L519.2,196.8 L520.2,195.1 L522.3,193.6 L524.1,195.6 L523.4,197.7 L521.6,199.4Z" fill="#6e6e6e"/>
<path d="M510.2,207.6 L511.5,206.1 L512.6,204.3 L515.0,205.4 L516.1,206.6 L514.8,208.5 L511.9,208.4Z" fill="#6e6e6e"/>
<path d="M515.6,215.0 L514.0,213.0 L513.9,210.9 L515.6,208.1 L517.8,208.6 L518.5,211.5 L517.7,213.1Z" fill="#6e6e6e"/>
<path d="M518.1,197.9 L515.9,197.5 L514.0,195.6 L514.8,193.2 L515.9,193.2 L518.0,193.1 L518.5,196.3Z" fill="#6e6e6e"/>
<path d="M516.4,200.3 L514.6,197.8 L516.4,196.2 L518.0,195.2 L520.0,195.7 L519.2,198.7 L518.5,200.8Z" fill="#6e6e6e"/>
<path d="M515.6,204.9 L514.3,203.3 L514.0,202.1 L515.8,201.1 L517.0,201.6 L517.9,203.1 L516.9,204.3Z" fill="#6e6e6e"/>
<path d="M519.6,196.3 L518.6,197.5 L513.6,197.4 L512.6,195.6 L512.7,194.0 L514.2,191.9 L520.3,193.9Z" fill="#6e6e6e"/>
<path d="M517.6,205.2 L514.8,205.6 L513.7,204.9 L511.6,201.6 L513.7,200.9 L515.9,201.4 L516.9,202.5Z" fill="#6e6e6e"/>
<path d="M510.6,213.6 L511.1,211.6 L511.9,210.1 L514.6,211.3 L515.4,212.6 L515.4,214.5 L511.4,215.3Z" fill="#6e6e6e"/>
<path d="M510.6,211.8 L509.2,210.7 L510.7,208.9 L512.7,208.4 L513.6,209.5 L513.3,211.3 L511.9,212.2Z" fill="#6e6e6e"/>
<path d="M513.3,204.4 L512.8,205.5 L510.4,206.1 L509.1,204.2 L509.5,202.1 L511.3,201.0 L512.6,202.5Z" fill="#6e6e6e"/>
<path d="M512.7,200.8 L513.7,200.0 L515.0,199.1 L516.6,200.0 L516.7,201.3 L515.3,202.0 L514.0,201.6Z" fill="#6e6e6e"/>
<path d="M515.3,211.8 L512.2,212.4 L510.2,213.2 L508.2,210.4 L507.9,207.8 L510.8,207.6 L514.5,209.2Z" fill="#6e6e6e"/>
<path d="M515.7,208.1 L516.0,206.3 L518.3,205.2 L520.0,206.2 L519.8,207.3 L518.5,209.3 L517.5,208.5Z" fill="#6e6e6e"/>
<path d="M522.9,203.8 L521.8,205.3 L519.2,204.5 L517.5,202.6 L519.0,201.3 L521.1,201.1 L523.5,202.3Z" fill="#6e6e6e"/>
<path d="M512.3,214.8 L513.1,211.9 L515.0,211.1 L518.0,212.6 L517.9,214.0 L516.5,216.1 L513.3,216.7Z" fill="#6e6e6e"/>
<path d="M512.4,206.4 L510.0,204.1 L509.5,201.9 L510.4,199.8 L512.1,199.5 L513.7,202.1 L513.7,205.9Z" fill="#6e6e6e"/>
<path d="M521.2,214.7 L519.0,215.9 L516.7,214.9 L516.6,213.3 L516.6,211.0 L518.4,212.0 L520.6,212.1Z" fill="#6e6e6e"/>
<path d="M513.3,216.1 L512.5,214.8 L512.5,213.3 L514.3,212.5 L515.5,213.2 L515.7,214.8 L514.2,216.2Z" fill="#6e6e6e"/>
<path d="M518.3,198.1 L516.0,197.5 L513.1,195.6 L512.5,192.9 L513.4,190.8 L516.9,192.2 L519.9,197.0Z" fill="#6e6e6e"/>
<path d="M498.0,228.3 L496.5,228.5 L495.5,226.0 L496.7,223.4 L498.6,223.4 L500.0,224.7 L499.5,227.7Z" fill="#6e6e6e"/>
<path d="M493.1,217.9 L491.5,219.2 L489.4,218.2 L488.5,214.8 L489.5,213.6 L491.7,213.7 L494.4,216.0Z" fill="#6e6e6e"/>
<path d="M486.9,227.7 L484.4,226.4 L483.7,223.6 L484.5,220.2 L486.5,221.1 L488.5,221.7 L488.5,225.3Z" fill="#6e6e6e"/>
<path d="M500.0,221.6 L500.7,219.9 L503.4,218.5 L506.2,219.8 L505.5,221.9 L503.1,224.2 L500.0,224.3Z" fill="#6e6e6e"/>
<path d="M497.8,235.4 L496.7,234.1 L496.5,231.7 L497.7,230.3 L499.3,229.9 L499.8,232.3 L499.9,233.9Z" fill="#6e6e6e"/>
<path d="M499.4,221.9 L499.2,220.4 L500.1,217.9 L504.0,217.9 L505.9,217.9 L503.2,221.7 L500.8,222.5Z" fill="#6e6e6e"/>
<path d="M505.3,234.0 L503.3,234.8 L501.6,233.6 L501.7,232.3 L502.4,231.5 L504.3,231.3 L505.0,232.3Z" fill="#6e6e6e"/>
<path d="M487.6,218.8 L486.0,219.1 L484.7,217.8 L485.2,216.5 L486.0,215.8 L488.0,215.6 L489.1,217.4Z" fill="#6e6e6e"/>
<path d="M483.1,223.1 L483.6,220.3 L484.9,218.3 L486.6,218.0 L487.7,218.7 L487.6,220.9 L485.6,222.4Z" fill="#6e6e6e"/>
<path d="M497.2,233.1 L496.6,231.4 L498.6,229.3 L501.4,229.9 L502.8,230.8 L500.8,232.8 L497.9,234.3Z" fill="#6e6e6e"/>
<path d="M506.6,231.1 L505.2,232.1 L504.0,232.7 L502.3,231.4 L502.3,228.7 L504.0,227.8 L506.5,228.3Z" fill="#6e6e6e"/>
<path d="M492.0,230.7 L488.8,232.7 L485.4,232.6 L481.3,231.5 L481.9,228.6 L485.6,228.5 L490.3,228.2Z" fill="#6e6e6e"/>
<path d="M493.1,229.0 L492.7,230.4 L489.3,231.4 L487.8,229.7 L486.8,228.2 L490.3,226.8 L492.5,227.6Z" fill="#6e6e6e"/>
<path d="M488.2,222.7 L487.4,221.0 L487.4,219.8 L488.4,218.7 L489.8,218.7 L490.1,220.4 L489.8,221.5Z" fill="#6e6e6e"/>
<path d="M488.3,228.1 L487.1,226.1 L488.7,224.3 L490.7,222.7 L492.8,224.3 L491.7,225.9 L489.8,228.2Z" fill="#6e6e6e"/>
<path d="M491.0,224.9 L491.2,223.2 L492.2,221.5 L493.5,221.2 L495.2,220.9 L494.4,223.7 L493.1,224.3Z" fill="#6e6e6e"/>
<path d="M493.7,229.0 L491.7,227.3 L489.9,225.0 L490.2,222.5 L491.2,221.4 L493.7,224.3 L494.8,226.8Z" fill="#6e6e6e"/>
<path d="M497.3,238.0 L495.4,238.2 L496.7,233.9 L499.1,232.2 L500.6,232.2 L501.5,235.5 L500.3,238.2Z" fill="#6e6e6e"/>
<path d="M504.5,221.8 L502.0,221.7 L502.7,218.9 L504.2,217.2 L506.3,216.8 L507.4,220.4 L505.4,221.6Z" fill="#6e6e6e"/>
<path d="M495.9,224.3 L494.5,223.3 L493.7,221.3 L494.4,219.2 L495.7,217.4 L497.5,220.2 L497.6,222.8Z" fill="#6e6e6e"/>
<path d="M490.9,229.1 L489.2,231.0 L485.9,230.8 L484.8,230.0 L485.1,228.4 L487.5,226.9 L489.0,227.4Z" fill="#6e6e6e"/>
<path d="M503.3,231.4 L504.3,229.8 L506.6,228.3 L508.3,229.5 L507.3,230.7 L506.1,232.1 L504.1,232.7Z" fill="#6e6e6e"/>
<path d="M486.7,224.6 L487.5,222.6 L488.5,220.2 L492.8,219.3 L493.3,220.4 L491.7,223.7 L489.6,225.4Z" fill="#6e6e6e"/>
<path d="M496.0,237.5 L496.5,234.9 L497.1,233.6 L499.4,232.9 L500.7,234.8 L499.8,236.1 L498.2,238.1Z" fill="#6e6e6e"/>
<path d="M509.9,227.2 L508.1,228.9 L506.7,227.5 L504.6,226.0 L506.2,224.5 L507.4,224.8 L509.6,225.2Z" fill="#6e6e6e"/>
<path d="M487.4,224.4 L487.4,222.0 L489.5,221.0 L491.9,221.0 L492.8,222.0 L491.2,224.1 L489.0,225.0Z" fill="#6e6e6e"/>
<path d="M505.3,232.5 L504.9,233.6 L502.5,233.4 L501.7,232.2 L501.8,230.5 L502.6,229.7 L504.3,230.8Z" fill="#6e6e6e"/>
<path d="M507.3,239.2 L507.3,238.1 L508.4,236.5 L509.6,235.7 L511.0,235.8 L510.3,237.8 L508.8,239.7Z" fill="#6e6e6e"/>
<path d="M508.0,235.9 L509.9,234.4 L511.2,233.3 L513.8,233.4 L514.0,235.8 L512.4,236.1 L509.9,236.5Z" fill="#6e6e6e"/>
<path d="M506.4,233.8 L504.7,232.8 L504.4,231.5 L504.3,229.1 L506.0,229.0 L507.4,230.7 L507.7,232.9Z" fill="#6e6e6e"/>
<path d="M505.7,236.1 L503.9,236.2 L502.7,233.3 L502.5,231.4 L503.9,230.8 L505.4,231.2 L506.7,235.3Z" fill="#6e6e6e"/>
<path d="M512.5,227.6 L513.0,229.4 L508.0,229.3 L507.3,227.5 L507.2,225.9 L508.8,225.5 L512.4,225.4Z" fill="#6e6e6e"/>
<path d="M506.0,238.0 L506.4,236.4 L506.9,235.4 L508.3,235.9 L508.9,236.9 L509.0,238.6 L507.6,238.9Z" fill="#6e6e6e"/>
<path d="M508.8,225.5 L508.3,226.4 L506.5,226.7 L505.9,225.9 L505.5,224.1 L507.5,223.1 L509.0,223.5Z" fill="#6e6e6e"/>
<path d="M478.6,246.8 L477.8,245.6 L478.3,244.9 L479.0,244.1 L480.4,244.6 L480.1,245.5 L479.8,246.8Z" fill="#6e6e6e"/>
<path d="M481.4,248.4 L481.3,247.5 L481.7,246.4 L482.8,245.7 L483.8,246.4 L483.8,247.9 L483.0,249.1Z" fill="#6e6e6e"/>
<path d="M479.4,246.8 L477.7,247.1 L476.7,246.1 L476.5,244.6 L477.3,243.7 L478.8,244.7 L479.8,245.8Z" fill="#6e6e6e"/>
<path d="M478.7,247.9 L477.3,247.3 L478.3,243.7 L479.7,243.5 L480.6,244.3 L481.3,246.7 L480.1,247.5Z" fill="#6e6e6e"/>
<path d="M479.2,255.5 L479.2,253.9 L479.6,251.8 L480.5,250.3 L482.4,251.0 L482.8,252.7 L481.8,254.7Z" fill="#6e6e6e"/>
<path d="M478.4,250.3 L478.6,249.0 L480.9,247.4 L483.0,247.0 L483.3,248.3 L482.2,249.8 L481.0,250.5Z" fill="#6e6e6e"/>
<path d="M477.7,248.1 L476.9,247.7 L476.1,245.4 L477.0,243.9 L477.9,244.4 L478.7,245.9 L478.5,247.7Z" fill="#6e6e6e"/>
<path d="M474.3,308.4 L474.5,307.4 L476.3,306.6 L478.4,306.3 L479.2,307.8 L478.2,308.9 L475.7,309.0Z" fill="#6e6e6e"/>
<path d="M474.6,308.0 L473.7,308.2 L472.8,306.7 L473.3,305.2 L474.1,304.3 L474.9,306.1 L475.0,307.3Z" fill="#6e6e6e"/>
<path d="M473.0,304.8 L473.9,303.1 L475.6,301.9 L477.3,302.2 L477.0,303.9 L476.7,304.8 L474.3,305.4Z" fill="#6e6e6e"/>
<path d="M471.6,303.8 L471.4,302.9 L472.8,302.3 L473.7,302.6 L473.8,303.9 L473.3,304.3 L472.3,304.6Z" fill="#6e6e6e"/>
<path d="M475.3,305.6 L474.9,304.7 L476.8,304.3 L477.8,304.6 L478.4,305.4 L477.4,306.4 L476.3,306.3Z" fill="#6e6e6e"/>
<path d="M472.7,308.2 L472.5,306.4 L472.6,304.9 L473.9,303.1 L475.7,304.3 L475.3,306.3 L474.1,307.9Z" fill="#6e6e6e"/>
<path d="M477.9,296.0 L476.7,296.6 L475.6,296.0 L474.3,294.3 L475.7,293.5 L477.3,293.9 L479.2,295.0Z" fill="#6e6e6e"/>
<path d="M480.5,304.9 L478.9,304.1 L477.2,302.2 L477.1,300.4 L478.0,299.0 L480.3,301.0 L480.8,303.6Z" fill="#6e6e6e"/>
<path d="M474.3,296.9 L473.3,296.9 L472.2,296.0 L471.9,294.9 L473.2,293.8 L474.3,294.9 L474.8,295.6Z" fill="#6e6e6e"/>
<path d="M472.8,310.2 L473.1,308.9 L474.1,307.1 L475.6,307.9 L476.1,309.2 L475.4,310.5 L474.4,310.7Z" fill="#6e6e6e"/>
<path d="M443.5,320.4 L441.8,319.8 L443.1,317.0 L444.6,316.6 L446.0,316.6 L445.7,318.2 L444.7,320.8Z" fill="#6e6e6e"/>
<path d="M444.5,317.7 L442.8,316.8 L441.2,314.6 L440.8,312.2 L442.8,311.4 L443.9,312.4 L444.4,314.8Z" fill="#6e6e6e"/>
<path d="M444.6,318.1 L443.0,317.0 L442.3,315.7 L442.1,313.3 L443.3,313.5 L444.6,314.5 L444.6,316.9Z" fill="#6e6e6e"/>
<path d="M440.6,321.4 L439.6,320.6 L439.6,318.6 L441.1,318.1 L442.2,318.3 L442.2,319.5 L441.5,320.9Z" fill="#6e6e6e"/>
<path d="M441.5,321.8 L441.1,322.9 L439.8,322.1 L439.2,321.0 L439.4,320.3 L441.1,320.0 L441.4,321.2Z" fill="#6e6e6e"/>
<path d="M442.1,326.6 L441.3,326.4 L440.2,325.9 L440.5,325.1 L441.7,323.9 L442.4,324.9 L442.8,325.7Z" fill="#6e6e6e"/>
<path d="M421.5,313.8 L420.9,313.4 L420.2,313.0 L420.4,311.6 L421.3,311.5 L421.9,312.1 L422.1,312.9Z" fill="#6e6e6e"/>
<path d="M422.7,311.7 L422.4,310.4 L423.7,309.8 L424.8,309.7 L426.4,309.9 L425.6,311.9 L422.9,312.8Z" fill="#6e6e6e"/>
<path d="M419.7,308.3 L418.6,307.7 L417.7,307.0 L417.7,304.9 L418.7,304.0 L420.6,305.2 L420.4,307.3Z" fill="#6e6e6e"/>
<path d="M419.8,310.4 L418.3,310.3 L416.5,309.9 L416.1,308.6 L416.8,308.0 L417.8,308.1 L419.6,308.5Z" fill="#6e6e6e"/>
<path d="M421.6,310.1 L420.9,309.7 L421.4,308.4 L422.2,307.9 L423.4,308.8 L423.0,309.7 L422.3,310.6Z" fill="#6e6e6e"/>
<path d="M426.1,312.4 L425.0,313.0 L423.7,312.8 L423.0,311.2 L424.2,310.7 L425.8,310.4 L426.8,311.3Z" fill="#6e6e6e"/>
<path d="M432.3,310.9 L431.8,311.8 L430.7,311.8 L429.6,311.5 L430.4,310.4 L431.3,309.5 L432.8,310.2Z" fill="#6e6e6e"/>
<path d="M423.1,312.5 L421.9,311.6 L421.7,310.5 L422.1,310.0 L422.9,309.3 L423.4,310.5 L423.7,311.4Z" fill="#6e6e6e"/>
<path d="M435.6,308.0 L433.5,309.1 L432.2,308.6 L430.6,307.3 L430.8,306.6 L432.3,306.1 L434.0,307.0Z" fill="#6e6e6e"/>
<path d="M475.6,270.9 L473.2,268.8 L471.6,267.0 L471.8,265.4 L472.7,264.5 L475.1,265.5 L476.5,268.8Z" fill="#6e6e6e"/>
<path d="M474.8,280.4 L473.7,278.9 L474.2,277.3 L476.2,275.6 L477.7,276.4 L477.9,278.6 L476.5,279.5Z" fill="#6e6e6e"/>
<path d="M472.8,266.2 L471.8,265.7 L471.6,264.4 L472.2,263.8 L473.2,263.8 L474.2,264.2 L473.9,265.1Z" fill="#6e6e6e"/>
<path d="M477.0,268.3 L475.9,268.7 L473.6,267.8 L473.3,266.0 L474.3,265.1 L475.8,265.1 L477.6,266.6Z" fill="#6e6e6e"/>
<path d="M475.6,283.0 L474.7,283.0 L473.6,280.9 L473.8,279.7 L474.9,279.0 L476.2,280.0 L476.3,282.6Z" fill="#6e6e6e"/>
<path d="M474.7,292.9 L473.4,290.8 L474.0,288.0 L474.4,286.0 L476.2,285.7 L477.4,288.4 L476.1,290.6Z" fill="#6e6e6e"/>
<path d="M476.4,253.1 L474.3,253.6 L473.0,251.6 L473.0,250.0 L473.9,249.5 L475.7,250.5 L477.3,251.4Z" fill="#6e6e6e"/>
<path d="M474.0,264.6 L474.0,262.6 L474.2,261.8 L475.6,260.7 L476.7,259.9 L476.1,262.2 L475.0,264.6Z" fill="#6e6e6e"/>
<path d="M472.2,291.6 L471.3,289.9 L471.9,288.2 L473.5,287.9 L474.4,288.4 L475.6,289.9 L474.4,291.1Z" fill="#6e6e6e"/>
<path d="M478.7,267.3 L477.4,268.5 L476.0,268.3 L473.7,267.1 L473.9,265.0 L475.4,264.8 L477.3,266.1Z" fill="#6e6e6e"/>
<path d="M477.8,290.0 L478.0,291.4 L474.8,290.9 L471.6,288.8 L472.3,287.1 L474.8,287.6 L478.0,288.6Z" fill="#6e6e6e"/>
<path d="M473.9,280.5 L474.9,278.8 L476.4,278.6 L478.1,279.0 L478.1,280.1 L476.4,281.8 L475.2,281.3Z" fill="#6e6e6e"/>
<path d="M474.4,254.5 L472.3,254.5 L470.6,251.8 L471.4,250.1 L472.4,250.0 L473.9,250.7 L474.5,252.3Z" fill="#6e6e6e"/>
<path d="M471.8,255.2 L470.6,254.1 L470.8,252.4 L472.0,250.6 L472.8,251.6 L473.5,253.5 L473.1,255.0Z" fill="#6e6e6e"/>
<path d="M472.9,252.6 L471.5,250.9 L471.5,249.3 L472.6,247.6 L474.1,248.1 L474.8,249.2 L473.9,252.1Z" fill="#6e6e6e"/>
<path d="M477.3,252.9 L475.5,254.2 L474.1,253.9 L473.6,252.6 L473.7,251.7 L475.2,250.6 L477.1,251.6Z" fill="#6e6e6e"/>
<path d="M495.1,268.4 L495.1,267.0 L495.9,265.4 L498.0,264.3 L498.6,265.9 L498.8,267.5 L496.0,269.9Z" fill="#6e6e6e"/>
<path d="M496.2,276.7 L494.6,276.4 L492.0,274.3 L492.0,272.6 L492.7,271.5 L495.3,272.7 L496.9,274.9Z" fill="#6e6e6e"/>
<path d="M498.0,271.4 L496.9,271.7 L496.0,271.5 L495.6,270.2 L496.2,269.3 L497.8,269.6 L498.1,270.7Z" fill="#6e6e6e"/>
<path d="M494.1,273.9 L494.3,272.9 L494.9,272.1 L497.1,271.1 L497.2,272.1 L496.6,273.7 L495.2,274.3Z" fill="#6e6e6e"/>
<path d="M503.6,269.2 L503.0,270.2 L501.6,270.7 L500.5,270.1 L500.7,268.3 L501.7,267.7 L503.8,268.4Z" fill="#6e6e6e"/>
<path d="M495.6,274.2 L493.6,274.4 L492.6,273.5 L492.0,271.8 L493.5,271.2 L495.2,271.5 L495.5,272.6Z" fill="#6e6e6e"/>
<path d="M447.3,331.3 L447.3,329.8 L448.5,328.7 L450.0,328.9 L451.2,329.9 L449.9,330.9 L448.7,331.6Z" fill="#6e6e6e"/>
<path d="M443.3,330.8 L442.1,329.8 L444.0,327.7 L445.5,326.9 L446.3,328.4 L446.6,329.6 L444.7,331.1Z" fill="#6e6e6e"/>
<path d="M448.3,326.0 L449.2,325.0 L449.9,324.8 L451.4,325.0 L451.2,326.6 L450.5,326.8 L449.4,326.9Z" fill="#6e6e6e"/>
<path d="M449.1,325.4 L447.4,325.9 L445.9,325.9 L445.0,324.3 L446.3,323.2 L447.1,323.6 L449.2,324.1Z" fill="#6e6e6e"/>
<path d="M450.2,328.2 L449.1,329.1 L447.8,328.4 L446.2,327.3 L446.2,326.5 L448.3,326.5 L449.1,326.9Z" fill="#6e6e6e"/>
<path d="M450.2,333.1 L449.0,333.5 L447.0,333.4 L446.2,332.0 L447.4,331.4 L448.4,331.1 L450.0,331.9Z" fill="#6e6e6e"/>
<path d="M460.9,358.6 L459.3,358.9 L458.7,355.7 L458.1,353.7 L460.3,353.6 L461.5,354.8 L461.0,357.2Z" fill="#6e6e6e"/>
<path d="M463.3,352.7 L463.3,350.2 L464.1,349.7 L466.2,349.4 L467.1,350.8 L466.6,352.1 L465.3,352.9Z" fill="#6e6e6e"/>
<path d="M465.7,346.4 L463.4,345.9 L462.3,345.8 L462.0,343.7 L463.0,342.8 L464.2,343.3 L465.6,345.1Z" fill="#6e6e6e"/>
<path d="M452.6,362.0 L451.5,361.8 L451.0,360.5 L451.2,359.4 L452.6,359.6 L454.1,360.1 L454.1,361.8Z" fill="#6e6e6e"/>
<path d="M463.0,348.6 L462.1,349.6 L459.8,349.7 L458.9,348.7 L459.5,346.7 L461.5,346.6 L463.6,347.3Z" fill="#6e6e6e"/>
<path d="M451.0,365.9 L450.0,364.8 L452.2,362.5 L454.5,361.9 L455.7,364.1 L455.0,365.5 L452.1,366.7Z" fill="#6e6e6e"/>
<path d="M458.5,365.3 L457.6,363.6 L459.3,361.2 L461.8,360.8 L462.3,361.8 L461.3,364.2 L459.6,366.2Z" fill="#6e6e6e"/>
<path d="M461.3,356.0 L459.7,355.8 L458.0,354.0 L458.9,352.2 L460.2,351.0 L462.1,353.0 L462.1,354.7Z" fill="#6e6e6e"/>
<path d="M453.6,365.2 L454.5,364.5 L455.0,364.2 L456.1,364.5 L456.1,365.2 L455.4,366.0 L454.8,366.5Z" fill="#6e6e6e"/>
<path d="M463.0,354.7 L461.5,355.5 L459.7,355.4 L459.6,353.9 L459.9,352.6 L460.7,352.0 L462.3,352.7Z" fill="#6e6e6e"/>
<path d="M458.6,352.9 L456.9,353.9 L455.2,354.6 L452.6,353.4 L453.0,352.4 L455.1,351.5 L457.0,351.2Z" fill="#6e6e6e"/>
<path d="M456.0,354.8 L454.4,354.4 L453.4,353.4 L452.7,351.8 L453.8,350.7 L455.2,352.1 L455.7,352.9Z" fill="#6e6e6e"/>
<path d="M443.4,365.7 L441.8,365.5 L440.8,363.4 L441.1,362.5 L442.5,362.1 L443.8,361.5 L444.7,363.6Z" fill="#6e6e6e"/>
<path d="M441.9,367.3 L441.8,366.1 L442.9,364.5 L444.9,363.9 L445.8,365.6 L444.9,367.1 L443.3,368.2Z" fill="#6e6e6e"/>
<path d="M441.8,365.0 L440.9,363.7 L441.5,362.9 L443.3,362.9 L444.1,363.7 L444.1,364.9 L443.5,365.8Z" fill="#6e6e6e"/>
<path d="M445.2,366.3 L446.4,365.1 L447.8,364.3 L449.7,364.3 L450.2,365.7 L449.1,367.0 L446.7,366.7Z" fill="#6e6e6e"/>
<path d="M446.5,373.3 L446.3,372.1 L447.6,370.6 L449.3,371.4 L449.9,372.5 L448.4,373.5 L447.4,374.6Z" fill="#6e6e6e"/>
<path d="M446.7,374.6 L446.2,375.8 L444.5,375.2 L443.8,373.8 L444.2,372.7 L445.8,372.6 L446.8,373.8Z" fill="#6e6e6e"/>
<path d="M453.9,370.4 L452.1,370.3 L450.9,369.7 L449.7,368.2 L450.5,367.1 L452.5,367.9 L454.1,368.6Z" fill="#6e6e6e"/>
<path d="M452.5,374.4 L451.1,375.2 L448.7,375.3 L447.5,373.9 L448.4,372.9 L449.6,372.4 L452.2,373.3Z" fill="#6e6e6e"/>
<path d="M449.7,373.3 L448.9,372.6 L448.9,370.5 L450.4,369.7 L451.9,369.3 L452.1,371.4 L451.2,373.5Z" fill="#6e6e6e"/>
<path d="M450.5,376.2 L449.7,374.9 L449.3,374.0 L450.5,373.3 L451.6,373.0 L452.2,374.3 L451.9,375.4Z" fill="#6e6e6e"/>
<path d="M458.4,400.5 L458.0,398.2 L459.2,396.4 L461.5,395.6 L462.5,397.7 L462.2,398.9 L460.3,400.5Z" fill="#6e6e6e"/>
<path d="M465.4,394.9 L464.7,394.7 L463.7,393.8 L463.6,393.1 L464.1,392.2 L465.2,392.6 L465.7,393.3Z" fill="#6e6e6e"/>
<path d="M456.0,394.3 L455.4,393.4 L456.0,391.7 L458.3,391.0 L459.4,392.7 L458.7,393.7 L457.3,395.0Z" fill="#6e6e6e"/>
<path d="M457.3,394.5 L456.0,393.8 L454.7,392.4 L454.9,390.9 L456.4,391.2 L457.2,391.4 L458.2,392.7Z" fill="#6e6e6e"/>
<path d="M458.7,397.7 L457.5,397.4 L456.6,397.3 L456.6,396.1 L457.3,395.5 L458.6,395.2 L458.7,396.3Z" fill="#6e6e6e"/>
<path d="M463.9,395.0 L463.8,393.8 L464.2,393.0 L464.9,392.7 L465.5,393.4 L465.8,394.3 L464.8,395.4Z" fill="#6e6e6e"/>
<path d="M465.9,393.5 L463.5,393.1 L462.4,392.3 L460.7,389.7 L461.8,388.7 L464.0,390.4 L465.5,391.6Z" fill="#6e6e6e"/>
<path d="M456.6,391.0 L454.6,390.0 L454.9,388.4 L455.2,387.1 L456.7,385.6 L457.8,388.1 L457.6,389.6Z" fill="#6e6e6e"/>
<path d="M437.9,382.6 L438.0,383.5 L435.8,383.3 L434.3,382.2 L435.3,381.7 L436.8,380.8 L437.8,381.9Z" fill="#6e6e6e"/>
<path d="M434.3,392.1 L433.4,390.2 L434.3,388.2 L436.3,386.9 L436.6,388.2 L436.6,389.5 L435.6,390.8Z" fill="#6e6e6e"/>
<path d="M432.5,384.5 L433.4,382.6 L434.7,381.6 L436.5,382.1 L437.5,383.2 L436.4,385.1 L434.7,385.0Z" fill="#6e6e6e"/>
<path d="M431.3,390.4 L431.8,388.3 L432.6,387.5 L434.4,386.8 L434.7,388.4 L434.4,390.1 L433.0,390.2Z" fill="#6e6e6e"/>
<path d="M436.0,387.2 L434.7,386.9 L434.6,384.7 L435.9,384.0 L436.7,384.0 L437.9,385.2 L436.8,386.8Z" fill="#6e6e6e"/>
<path d="M433.4,406.0 L433.5,404.4 L434.3,402.4 L436.1,400.8 L437.7,401.5 L436.9,403.8 L435.9,405.9Z" fill="#6e6e6e"/>
<path d="M435.1,400.2 L433.8,399.6 L432.9,397.9 L433.4,394.9 L434.9,395.4 L436.0,397.3 L436.2,398.5Z" fill="#6e6e6e"/>
<path d="M432.9,402.0 L432.3,401.1 L434.4,399.8 L436.0,400.2 L436.4,401.1 L434.9,402.6 L433.9,403.1Z" fill="#6e6e6e"/>
<path d="M435.0,397.8 L433.7,397.3 L432.7,395.2 L432.6,393.7 L433.6,392.6 L435.5,394.9 L435.9,396.5Z" fill="#6e6e6e"/>
<path d="M498.5,341.0 L497.3,339.8 L498.4,338.3 L499.3,338.1 L500.9,338.8 L500.9,340.0 L499.5,340.9Z" fill="#6e6e6e"/>
<path d="M501.8,342.1 L499.8,342.5 L498.8,341.3 L498.6,339.9 L499.8,339.6 L500.8,339.6 L502.1,341.0Z" fill="#6e6e6e"/>
<path d="M442.4,316.8 L441.7,316.6 L440.1,315.5 L440.9,314.3 L441.5,313.9 L442.6,314.2 L443.3,316.1Z" fill="#6e6e6e"/>
<path d="M443.1,318.0 L443.5,316.8 L444.5,316.1 L445.2,317.0 L445.3,317.6 L444.7,318.1 L443.8,318.4Z" fill="#6e6e6e"/>
<path d="M444.8,309.3 L443.9,309.9 L442.8,310.1 L441.7,308.8 L442.8,308.2 L443.6,308.1 L444.3,308.4Z" fill="#6e6e6e"/>
<path d="M448.1,309.5 L446.1,310.8 L443.9,310.5 L442.5,309.1 L443.3,307.6 L445.5,308.2 L446.5,308.7Z" fill="#6e6e6e"/>
<path d="M442.9,318.2 L442.2,317.5 L442.1,316.6 L443.0,315.8 L443.8,316.2 L444.4,316.5 L444.4,317.5Z" fill="#6e6e6e"/>
<path d="M439.0,317.4 L437.8,317.1 L437.4,315.1 L438.0,313.5 L439.1,313.8 L439.8,315.2 L439.6,316.5Z" fill="#6e6e6e"/>
<path d="M441.0,314.3 L440.2,314.8 L438.6,314.3 L438.1,312.1 L439.2,311.9 L439.9,311.5 L441.3,313.1Z" fill="#6e6e6e"/>
<path d="M438.4,316.0 L437.2,314.9 L436.1,314.3 L436.0,312.8 L437.0,312.3 L438.3,312.3 L439.0,313.8Z" fill="#6e6e6e"/>
<path d="M367.3,473.6 L367.3,472.3 L369.1,469.9 L370.2,469.4 L371.1,471.4 L370.7,472.5 L369.6,473.6Z" fill="#6e6e6e"/>
<path d="M376.5,457.2 L375.4,455.9 L376.5,452.7 L377.7,452.0 L379.6,452.2 L379.1,454.0 L378.2,455.8Z" fill="#6e6e6e"/>
<path d="M371.4,461.9 L371.0,462.2 L369.5,461.4 L368.1,460.3 L368.4,459.2 L369.8,459.5 L371.9,460.7Z" fill="#6e6e6e"/>
<path d="M377.8,467.1 L377.3,466.4 L377.4,464.0 L379.5,464.6 L380.6,465.5 L380.5,467.0 L378.9,468.1Z" fill="#6e6e6e"/>
<path d="M387.9,461.7 L385.9,461.8 L383.5,458.3 L384.1,456.2 L385.7,456.5 L387.1,457.4 L387.9,459.8Z" fill="#6e6e6e"/>
<path d="M375.9,459.7 L373.5,459.6 L372.2,459.3 L371.2,457.1 L372.0,456.4 L373.3,456.5 L375.0,457.5Z" fill="#6e6e6e"/>
<path d="M368.8,470.2 L367.3,469.8 L367.0,467.4 L366.8,465.4 L368.5,466.4 L368.9,466.8 L369.9,468.7Z" fill="#6e6e6e"/>
<path d="M384.1,468.5 L384.2,467.5 L385.1,465.8 L387.4,465.6 L388.6,466.4 L387.4,467.9 L386.0,469.5Z" fill="#6e6e6e"/>
<path d="M382.5,476.5 L381.1,477.4 L380.0,477.8 L378.3,476.7 L378.4,475.7 L380.3,475.2 L381.8,476.0Z" fill="#6e6e6e"/>
<path d="M366.2,470.1 L365.4,469.5 L364.5,467.8 L365.5,467.3 L366.8,467.2 L367.5,468.0 L367.1,469.9Z" fill="#6e6e6e"/>
<path d="M373.1,472.1 L371.3,471.9 L370.4,470.9 L370.3,469.1 L371.7,468.8 L372.6,469.4 L373.3,470.4Z" fill="#6e6e6e"/>
<path d="M375.3,478.1 L374.2,476.7 L374.0,475.1 L375.2,474.2 L376.4,473.3 L377.0,475.6 L376.3,477.6Z" fill="#6e6e6e"/>
<path d="M391.7,463.8 L389.3,464.7 L387.0,464.8 L386.7,463.4 L386.3,461.9 L388.1,462.0 L390.6,462.9Z" fill="#6e6e6e"/>
<path d="M365.8,470.7 L364.7,469.9 L364.4,468.5 L365.5,467.4 L367.2,467.0 L368.1,468.5 L367.1,470.2Z" fill="#6e6e6e"/>
<path d="M388.2,464.0 L386.3,464.4 L384.3,462.1 L383.1,459.2 L384.7,458.8 L387.3,459.3 L388.9,461.0Z" fill="#6e6e6e"/>
<path d="M371.7,475.2 L371.1,473.7 L372.1,473.1 L373.3,472.6 L374.6,472.9 L373.7,473.8 L373.1,475.2Z" fill="#6e6e6e"/>
<path d="M342.7,494.1 L342.5,492.2 L343.7,491.1 L346.5,489.9 L346.6,492.1 L345.6,493.5 L344.2,494.0Z" fill="#6e6e6e"/>
<path d="M339.8,496.3 L340.2,494.7 L340.9,492.8 L342.7,492.3 L343.1,493.8 L343.3,495.1 L341.7,495.9Z" fill="#6e6e6e"/>
<path d="M358.0,493.9 L357.0,494.1 L356.0,493.6 L355.1,492.8 L355.8,491.6 L357.2,491.6 L358.4,492.4Z" fill="#6e6e6e"/>
<path d="M345.0,497.8 L343.8,497.3 L344.1,495.5 L344.9,495.0 L346.3,496.0 L346.8,496.7 L345.9,497.7Z" fill="#6e6e6e"/>
<path d="M335.6,494.0 L334.8,495.2 L333.5,494.0 L333.5,493.4 L333.9,492.5 L335.1,492.1 L335.7,493.4Z" fill="#6e6e6e"/>
<path d="M355.3,492.8 L354.5,492.4 L353.6,491.2 L353.3,490.2 L354.5,489.8 L355.5,490.2 L356.1,492.2Z" fill="#6e6e6e"/>
<path d="M350.2,492.6 L350.0,493.3 L347.8,493.4 L346.4,492.9 L346.1,491.6 L347.9,491.4 L349.4,491.1Z" fill="#6e6e6e"/>
<path d="M355.5,494.0 L354.7,492.6 L355.7,491.1 L357.3,489.1 L357.9,489.5 L358.3,492.1 L356.6,494.0Z" fill="#6e6e6e"/>
<path d="M335.3,496.7 L335.1,495.7 L335.9,493.6 L336.9,492.2 L337.5,493.1 L338.0,494.9 L337.2,495.9Z" fill="#6e6e6e"/>
<path d="M352.9,489.1 L351.8,490.2 L350.9,489.4 L349.9,487.6 L350.4,487.0 L351.6,487.1 L353.2,488.0Z" fill="#6e6e6e"/>
<path d="M385.8,500.0 L384.9,501.8 L383.2,501.4 L382.8,500.5 L383.0,499.3 L383.6,498.6 L384.9,499.1Z" fill="#6e6e6e"/>
<path d="M378.5,494.4 L377.0,495.1 L376.1,495.0 L374.8,494.1 L375.1,493.2 L376.3,492.7 L377.4,493.3Z" fill="#6e6e6e"/>
<path d="M373.0,494.8 L373.6,493.6 L374.5,493.2 L376.6,493.1 L376.2,494.2 L375.3,495.4 L373.7,495.6Z" fill="#6e6e6e"/>
<path d="M375.4,498.8 L375.3,497.4 L378.2,497.2 L379.0,498.0 L380.2,498.7 L378.2,500.1 L375.7,499.6Z" fill="#6e6e6e"/>
<path d="M384.6,495.8 L383.4,495.4 L382.5,494.2 L383.0,492.8 L384.9,492.5 L385.7,493.8 L385.2,495.3Z" fill="#6e6e6e"/>
<path d="M362.5,527.0 L361.4,527.0 L361.3,524.9 L362.8,524.0 L364.6,524.2 L364.1,525.3 L363.7,527.0Z" fill="#6e6e6e"/>
<path d="M374.2,523.0 L373.3,523.2 L371.5,522.2 L371.2,521.1 L372.1,520.4 L373.2,520.8 L374.4,521.6Z" fill="#6e6e6e"/>
<path d="M365.7,518.8 L364.9,519.3 L363.0,520.2 L361.0,519.2 L361.4,517.3 L363.0,516.8 L364.6,517.2Z" fill="#6e6e6e"/>
<path d="M363.0,529.6 L361.7,529.2 L362.0,526.8 L362.2,525.8 L363.8,525.3 L364.9,526.9 L364.4,528.3Z" fill="#6e6e6e"/>
<path d="M373.1,525.1 L372.2,524.9 L371.5,523.3 L371.1,521.2 L373.2,520.7 L374.3,521.2 L375.0,524.4Z" fill="#6e6e6e"/>
<path d="M369.9,518.4 L370.9,517.1 L371.7,516.9 L373.5,516.9 L373.3,518.7 L372.6,520.0 L370.4,519.8Z" fill="#6e6e6e"/>
<path d="M366.2,522.6 L367.0,521.0 L368.6,520.0 L370.9,520.4 L371.2,521.8 L369.7,523.4 L367.8,523.4Z" fill="#6e6e6e"/>
<path d="M413.4,437.3 L411.6,436.4 L411.1,434.8 L412.3,432.9 L413.1,432.7 L414.4,434.0 L414.3,435.8Z" fill="#6e6e6e"/>
<path d="M418.0,444.3 L416.4,444.8 L414.7,442.6 L414.6,440.9 L415.5,440.4 L416.9,441.2 L418.2,442.4Z" fill="#6e6e6e"/>
<path d="M403.1,441.9 L401.8,441.2 L400.8,439.8 L400.5,437.4 L401.4,437.2 L403.3,438.7 L404.0,440.7Z" fill="#6e6e6e"/>
<path d="M417.3,441.2 L416.3,441.8 L414.4,442.1 L413.6,440.9 L413.8,439.7 L414.8,438.8 L416.4,439.8Z" fill="#6e6e6e"/>
<path d="M412.0,437.3 L411.5,437.7 L410.4,437.2 L409.8,436.5 L410.3,435.3 L411.3,435.5 L412.5,436.5Z" fill="#6e6e6e"/>
<path d="M415.1,440.0 L413.9,440.5 L413.6,438.6 L414.3,437.7 L414.8,438.1 L415.7,438.6 L415.5,439.5Z" fill="#6e6e6e"/>
<path d="M410.2,438.8 L409.1,439.1 L408.1,438.5 L407.6,437.6 L408.1,436.9 L409.3,436.8 L410.5,438.0Z" fill="#6e6e6e"/>
<path d="M412.6,436.4 L411.4,436.8 L410.8,436.4 L410.3,434.7 L411.4,434.3 L412.2,434.1 L413.3,434.8Z" fill="#6e6e6e"/>
<path d="M427.5,424.8 L427.0,424.3 L427.4,423.1 L428.9,422.1 L429.8,423.1 L429.5,424.1 L429.1,425.4Z" fill="#6e6e6e"/>
<path d="M435.4,423.3 L435.6,422.3 L437.5,422.5 L439.3,422.8 L438.7,424.1 L437.5,424.9 L436.2,424.8Z" fill="#6e6e6e"/>
<path d="M432.9,427.7 L432.2,426.8 L431.1,425.5 L432.2,424.3 L433.1,423.3 L434.4,424.9 L434.2,426.9Z" fill="#6e6e6e"/>
<path d="M433.1,423.1 L432.6,421.7 L434.0,420.7 L435.3,420.6 L436.1,421.7 L435.5,423.3 L434.1,423.6Z" fill="#6e6e6e"/>
<path d="M421.7,422.1 L421.7,420.9 L424.2,420.6 L425.1,421.0 L425.8,421.7 L424.1,423.4 L422.3,422.9Z" fill="#6e6e6e"/>
<path d="M375.7,423.6 L375.3,423.0 L376.2,422.3 L376.9,422.3 L377.6,422.8 L377.1,423.8 L376.4,423.8Z" fill="#6e6e6e"/>
<path d="M379.7,425.2 L378.4,425.5 L377.2,425.1 L376.7,423.9 L377.5,423.3 L378.5,422.6 L379.8,423.8Z" fill="#6e6e6e"/>
<path d="M376.5,431.2 L376.9,429.7 L377.5,428.4 L378.6,429.1 L379.3,429.4 L378.8,430.8 L377.8,431.8Z" fill="#6e6e6e"/>
<path d="M381.0,432.0 L379.8,431.1 L379.1,430.4 L379.6,429.6 L380.4,428.9 L381.2,429.9 L381.5,430.7Z" fill="#6e6e6e"/>
<path d="M439.0,321.2 L438.1,322.5 L436.6,322.2 L435.6,321.2 L435.7,319.5 L437.6,318.6 L439.0,319.9Z" fill="#6e6e6e"/>
<path d="M441.8,334.8 L440.8,333.9 L440.9,332.7 L442.6,331.3 L443.1,332.4 L443.5,333.3 L442.9,334.4Z" fill="#6e6e6e"/>
<path d="M443.4,320.8 L442.4,321.4 L440.9,321.1 L438.9,319.6 L439.9,318.6 L441.7,319.2 L442.5,319.5Z" fill="#6e6e6e"/>
<path d="M443.2,347.7 L442.4,346.8 L441.5,346.0 L441.3,344.3 L442.6,344.1 L443.6,344.6 L444.5,346.8Z" fill="#6e6e6e"/>
<path d="M438.3,348.7 L437.5,348.3 L437.1,345.9 L437.5,343.3 L438.6,344.0 L439.9,344.8 L439.1,347.2Z" fill="#6e6e6e"/>
<path d="M438.6,350.6 L437.7,349.6 L436.9,348.6 L437.5,347.4 L438.8,347.0 L439.1,348.4 L439.0,349.0Z" fill="#6e6e6e"/>
<path d="M438.7,323.6 L437.5,323.0 L439.0,320.7 L439.8,320.2 L441.4,320.7 L441.0,322.2 L440.1,323.8Z" fill="#6e6e6e"/>
<path d="M441.0,328.2 L438.9,329.0 L436.5,328.0 L435.3,326.9 L436.1,325.4 L437.3,325.5 L440.0,326.1Z" fill="#6e6e6e"/>
<path d="M443.4,341.9 L442.0,341.6 L441.4,340.8 L441.8,339.3 L443.0,338.9 L443.9,339.6 L443.9,341.3Z" fill="#6e6e6e"/>
<path d="M438.2,324.5 L436.2,323.9 L435.4,320.7 L436.0,318.2 L438.3,319.4 L439.2,320.3 L438.7,322.8Z" fill="#6e6e6e"/>
<path d="M441.7,333.5 L441.4,334.1 L439.6,334.3 L438.6,333.1 L438.7,332.1 L440.5,330.8 L441.8,332.0Z" fill="#6e6e6e"/>
<path d="M442.0,336.0 L440.4,337.3 L438.9,337.3 L438.0,336.4 L437.8,335.1 L438.9,334.0 L441.2,334.7Z" fill="#6e6e6e"/>
<path d="M439.8,324.0 L438.1,323.9 L437.6,321.3 L437.1,319.4 L439.4,319.0 L440.7,320.4 L440.8,323.4Z" fill="#6e6e6e"/>
<path d="M440.8,339.5 L439.1,338.8 L438.1,336.1 L439.0,334.4 L439.2,332.7 L440.9,335.1 L441.2,337.4Z" fill="#6e6e6e"/>
<path d="M443.9,322.9 L443.2,323.3 L442.2,321.9 L441.8,320.0 L442.7,320.0 L444.0,320.6 L444.7,321.9Z" fill="#6e6e6e"/>
<path d="M439.5,313.2 L439.5,312.4 L440.5,311.1 L441.6,310.8 L442.9,311.4 L442.3,313.0 L440.5,313.9Z" fill="#6e6e6e"/>
<path d="M438.2,338.7 L437.2,336.6 L437.0,334.6 L438.0,332.3 L439.5,332.0 L440.4,334.1 L439.8,336.7Z" fill="#6e6e6e"/>
<path d="M440.3,318.7 L438.3,317.4 L436.7,315.5 L438.2,313.8 L440.0,313.5 L441.2,314.6 L440.8,317.0Z" fill="#6e6e6e"/>
<path d="M458.3,374.6 L456.3,374.3 L454.2,373.1 L453.0,370.7 L454.4,369.8 L456.4,370.7 L457.6,371.8Z" fill="#6e6e6e"/>
<path d="M467.4,355.5 L466.0,355.1 L465.2,352.7 L466.0,352.3 L467.4,351.7 L468.1,352.8 L468.3,354.6Z" fill="#6e6e6e"/>
<path d="M455.9,351.0 L456.5,348.9 L459.0,348.9 L461.0,349.5 L461.4,351.3 L459.7,352.5 L456.1,352.4Z" fill="#6e6e6e"/>
<path d="M465.5,350.1 L463.7,350.3 L462.8,348.7 L462.5,346.9 L463.6,346.7 L464.6,347.6 L465.9,348.8Z" fill="#6e6e6e"/>
<path d="M460.1,349.6 L458.5,348.3 L460.0,346.2 L461.3,346.2 L462.7,346.7 L462.9,348.2 L461.1,349.8Z" fill="#6e6e6e"/>
<path d="M446.7,355.4 L445.4,356.6 L443.6,355.8 L442.1,353.1 L443.4,352.4 L445.0,352.0 L446.9,354.4Z" fill="#6e6e6e"/>
<path d="M449.4,348.0 L450.1,346.0 L450.7,344.7 L453.4,345.0 L453.5,346.5 L452.8,347.7 L452.0,348.6Z" fill="#6e6e6e"/>
<path d="M447.6,371.3 L446.5,370.8 L446.0,369.0 L445.7,366.9 L447.3,366.2 L448.2,368.1 L448.8,370.2Z" fill="#6e6e6e"/>
<path d="M460.0,356.8 L458.2,355.6 L459.7,353.5 L462.0,351.3 L463.4,352.8 L463.1,354.6 L461.4,357.3Z" fill="#6e6e6e"/>
<path d="M461.6,356.1 L459.7,357.0 L457.9,356.3 L457.7,354.8 L457.7,353.3 L459.3,353.1 L461.6,354.7Z" fill="#6e6e6e"/>
<path d="M450.4,357.7 L449.8,358.7 L448.7,359.0 L447.3,358.4 L447.6,357.0 L449.1,356.5 L450.0,356.7Z" fill="#6e6e6e"/>
<path d="M461.1,369.1 L458.5,368.7 L457.0,368.4 L455.5,365.9 L456.2,364.7 L458.7,364.9 L459.5,366.8Z" fill="#6e6e6e"/>
<path d="M452.9,360.6 L451.8,361.7 L450.4,360.6 L449.7,359.2 L450.1,358.2 L451.6,357.6 L452.7,358.6Z" fill="#6e6e6e"/>
<path d="M450.2,366.4 L448.8,367.3 L447.8,368.0 L446.0,366.9 L446.0,366.0 L448.0,364.7 L448.8,365.4Z" fill="#6e6e6e"/>
<path d="M459.5,362.9 L459.3,364.0 L457.3,364.5 L455.7,363.8 L456.3,362.5 L457.0,361.1 L459.1,361.4Z" fill="#6e6e6e"/>
<path d="M463.8,355.1 L462.8,355.1 L461.1,353.1 L461.0,352.1 L461.9,351.5 L463.2,352.0 L463.4,353.0Z" fill="#6e6e6e"/>
<path d="M464.5,355.4 L465.8,353.4 L467.4,352.9 L469.1,354.0 L468.9,355.1 L467.8,355.9 L466.1,356.5Z" fill="#6e6e6e"/>
<path d="M460.2,361.6 L458.8,362.3 L456.3,363.3 L455.1,361.7 L455.2,360.7 L457.1,359.9 L458.9,359.5Z" fill="#6e6e6e"/>
<path d="M434.5,397.2 L435.7,395.6 L436.7,394.2 L438.1,394.4 L438.9,395.2 L438.1,396.2 L436.7,397.0Z" fill="#6e6e6e"/>
<path d="M432.7,393.4 L433.1,391.8 L434.8,391.9 L436.3,391.9 L437.1,392.9 L436.5,394.2 L434.0,394.7Z" fill="#6e6e6e"/>
<path d="M429.3,412.1 L428.2,410.9 L429.0,408.6 L431.0,407.4 L431.8,408.5 L432.5,410.2 L430.5,412.0Z" fill="#6e6e6e"/>
<path d="M432.9,393.1 L432.7,393.9 L430.3,393.5 L430.0,392.5 L430.1,391.8 L431.3,391.6 L432.5,391.9Z" fill="#6e6e6e"/>
<path d="M434.7,418.8 L434.4,420.1 L431.1,420.4 L430.6,419.1 L430.3,418.2 L431.1,416.8 L433.6,418.0Z" fill="#6e6e6e"/>
<path d="M435.0,411.1 L433.5,410.6 L432.7,409.7 L431.9,408.5 L433.0,407.8 L434.5,407.9 L434.7,409.2Z" fill="#6e6e6e"/>
<path d="M437.9,404.2 L436.4,404.6 L434.1,403.8 L432.3,402.3 L433.3,400.5 L435.8,401.4 L437.3,402.4Z" fill="#6e6e6e"/>
<path d="M434.1,395.1 L433.1,395.2 L433.2,393.9 L433.9,393.0 L434.7,392.6 L435.4,393.6 L435.4,395.0Z" fill="#6e6e6e"/>
<path d="M436.0,398.0 L434.4,398.5 L432.8,397.8 L432.0,395.7 L433.2,394.3 L435.0,394.7 L436.0,396.5Z" fill="#6e6e6e"/>
<path d="M437.3,402.6 L436.1,400.9 L435.5,400.1 L435.5,398.0 L436.7,397.4 L438.1,399.4 L438.2,400.1Z" fill="#6e6e6e"/>
<path d="M430.9,409.1 L429.3,409.0 L428.7,408.1 L427.8,406.5 L428.3,405.6 L429.9,405.9 L431.2,407.8Z" fill="#6e6e6e"/>
<path d="M432.0,409.3 L431.3,408.4 L431.8,406.8 L433.0,405.8 L434.1,405.8 L434.3,407.1 L433.8,409.4Z" fill="#6e6e6e"/>
<path d="M433.1,405.8 L433.8,404.6 L435.7,404.1 L436.4,404.5 L436.6,405.4 L436.3,406.5 L434.2,406.5Z" fill="#6e6e6e"/>
<path d="M434.8,413.0 L434.4,411.8 L435.1,410.3 L437.0,408.3 L437.9,408.4 L437.6,411.1 L436.9,413.1Z" fill="#6e6e6e"/>
<path d="M399.0,443.2 L398.2,441.1 L399.0,439.6 L400.3,437.7 L401.9,438.5 L401.7,440.7 L400.9,442.4Z" fill="#6e6e6e"/>
<path d="M407.0,426.7 L407.1,425.5 L408.0,424.8 L408.8,424.8 L409.6,425.9 L409.0,426.9 L407.9,427.5Z" fill="#6e6e6e"/>
<path d="M396.2,434.5 L397.1,433.0 L398.9,432.1 L400.0,433.0 L400.2,434.4 L398.8,435.6 L397.5,435.4Z" fill="#6e6e6e"/>
<path d="M408.5,424.1 L407.8,423.3 L409.2,422.0 L410.3,422.1 L410.5,422.7 L410.4,423.9 L409.3,424.6Z" fill="#6e6e6e"/>
<path d="M406.9,423.0 L405.4,421.9 L405.7,420.7 L407.5,419.9 L408.3,420.5 L408.8,421.6 L407.9,422.6Z" fill="#6e6e6e"/>
<path d="M406.1,425.4 L405.3,425.7 L405.0,425.1 L404.8,424.2 L405.6,424.0 L406.3,423.8 L406.6,424.8Z" fill="#6e6e6e"/>
<path d="M410.2,437.5 L408.9,438.1 L407.5,437.9 L406.7,435.8 L407.3,434.9 L409.2,435.4 L410.4,436.1Z" fill="#6e6e6e"/>
<path d="M395.4,432.7 L394.5,431.8 L393.4,430.1 L394.1,428.3 L395.3,428.4 L396.7,429.9 L397.0,431.9Z" fill="#6e6e6e"/>
<path d="M399.2,428.1 L398.3,427.5 L398.2,426.3 L398.9,425.6 L399.7,426.1 L400.5,426.3 L399.8,427.4Z" fill="#6e6e6e"/>
<path d="M399.6,426.7 L399.9,424.9 L400.0,422.7 L401.6,422.0 L403.1,422.5 L402.4,425.2 L401.5,425.5Z" fill="#6e6e6e"/>
<path d="M396.6,426.7 L397.5,425.1 L399.3,423.8 L400.5,424.3 L401.1,424.7 L400.4,426.8 L398.6,426.6Z" fill="#6e6e6e"/>
<path d="M402.3,428.3 L402.1,427.2 L403.0,426.0 L404.0,426.2 L404.6,427.4 L403.9,428.3 L402.8,428.6Z" fill="#6e6e6e"/>
<path d="M485.0,199.6 L483.7,199.2 L483.0,198.2 L483.8,196.3 L485.1,196.4 L486.8,197.3 L486.6,198.8Z" fill="#6e6e6e"/>
<path d="M482.6,187.2 L482.5,185.2 L483.0,183.0 L485.0,183.5 L486.3,183.8 L485.5,185.7 L484.5,187.2Z" fill="#6e6e6e"/>
<path d="M486.4,196.3 L487.8,194.0 L489.6,192.0 L492.1,191.9 L492.9,193.5 L491.3,196.0 L489.2,196.6Z" fill="#6e6e6e"/>
<path d="M489.7,191.5 L488.5,190.7 L488.1,189.1 L488.2,187.5 L489.5,187.0 L490.4,189.2 L490.8,190.6Z" fill="#6e6e6e"/>
<path d="M484.9,197.1 L483.3,196.1 L482.5,195.0 L483.5,193.6 L485.8,193.1 L486.2,195.0 L485.8,196.6Z" fill="#6e6e6e"/>
<path d="M489.0,197.1 L488.4,197.6 L486.6,197.6 L485.5,197.1 L486.7,195.7 L488.0,195.0 L489.4,195.8Z" fill="#6e6e6e"/>
<path d="M483.1,192.0 L481.7,191.9 L482.2,189.0 L483.5,187.6 L484.9,188.8 L485.7,190.3 L485.4,191.6Z" fill="#6e6e6e"/>
<path d="M491.9,193.9 L490.5,194.9 L488.5,194.0 L486.6,192.4 L488.7,191.5 L490.2,191.4 L492.0,192.4Z" fill="#6e6e6e"/>
<path d="M511.2,187.7 L511.3,185.2 L513.0,184.0 L515.5,183.6 L516.7,183.5 L515.6,185.8 L512.8,188.4Z" fill="#6e6e6e"/>
<path d="M512.1,191.4 L511.8,189.7 L512.0,188.0 L514.2,187.2 L515.1,188.3 L514.4,190.1 L513.3,191.5Z" fill="#6e6e6e"/>
<path d="M513.5,191.1 L512.2,190.2 L511.9,188.9 L512.8,187.5 L513.9,187.3 L514.6,188.1 L514.2,189.9Z" fill="#6e6e6e"/>
<path d="M510.5,184.0 L509.9,185.0 L508.2,185.5 L506.5,185.2 L506.3,183.5 L508.0,182.1 L509.9,182.8Z" fill="#6e6e6e"/>
<path d="M512.6,192.0 L512.5,190.5 L512.4,188.4 L513.9,186.5 L515.2,187.8 L516.3,189.5 L514.9,192.1Z" fill="#6e6e6e"/>
<path d="M510.2,182.0 L511.3,180.9 L512.6,180.3 L514.4,180.6 L514.6,182.2 L512.9,183.5 L510.6,183.3Z" fill="#6e6e6e"/>
<path d="M466.7,197.4 L465.4,197.8 L463.6,197.3 L463.7,196.0 L464.3,195.2 L465.5,194.8 L466.3,195.7Z" fill="#6e6e6e"/>
<path d="M464.2,185.0 L464.8,182.9 L465.4,182.6 L466.9,181.9 L467.3,183.5 L466.9,185.2 L466.0,184.9Z" fill="#6e6e6e"/>
<path d="M463.9,197.3 L461.8,197.0 L461.9,194.2 L462.5,193.4 L463.8,193.1 L465.2,194.8 L464.9,197.1Z" fill="#6e6e6e"/>
<path d="M461.4,189.3 L460.6,187.7 L461.6,185.3 L462.4,185.1 L464.5,184.8 L464.0,187.0 L463.2,188.2Z" fill="#6e6e6e"/>
<path d="M465.6,192.2 L464.6,191.7 L464.7,190.2 L466.5,189.3 L467.8,189.4 L467.8,191.7 L467.0,192.7Z" fill="#6e6e6e"/>
<path d="M465.9,187.7 L465.1,187.1 L466.0,184.6 L467.5,182.4 L468.5,183.7 L468.5,185.8 L467.1,187.2Z" fill="#6e6e6e"/>
<path d="M490.5,149.2 L490.0,149.3 L488.9,149.3 L488.6,147.7 L489.2,147.3 L490.2,147.6 L490.8,148.3Z" fill="#6e6e6e"/>
<path d="M494.4,152.9 L493.2,152.3 L491.6,150.9 L492.1,149.0 L493.2,148.4 L494.9,149.7 L495.1,150.9Z" fill="#6e6e6e"/>
<path d="M491.5,153.7 L490.6,151.9 L491.2,150.7 L492.0,149.6 L493.4,150.2 L493.7,151.4 L492.7,153.5Z" fill="#6e6e6e"/>
<path d="M492.5,152.4 L491.3,153.4 L489.7,152.2 L488.3,150.0 L488.9,149.2 L490.8,149.9 L493.4,151.4Z" fill="#6e6e6e"/>
<path d="M492.5,152.5 L491.9,151.8 L491.7,149.6 L492.6,149.5 L494.1,149.5 L494.2,150.4 L493.7,151.4Z" fill="#6e6e6e"/>
<path d="M493.7,151.8 L493.5,150.3 L494.1,148.5 L496.4,147.8 L497.3,149.2 L496.4,151.3 L495.0,151.6Z" fill="#6e6e6e"/>
<path d="M468.7,242.8 L468.1,241.8 L467.9,240.7 L469.6,239.3 L470.4,239.5 L470.9,241.0 L469.8,242.6Z" fill="#6e6e6e"/>
<path d="M471.0,231.5 L471.4,229.1 L473.3,229.0 L474.5,229.6 L474.5,231.6 L474.0,232.6 L471.7,232.3Z" fill="#6e6e6e"/>
<path d="M470.9,232.8 L470.5,231.6 L470.9,230.4 L472.9,230.1 L473.6,230.4 L473.4,231.8 L471.8,233.9Z" fill="#6e6e6e"/>
<path d="M473.4,236.0 L473.9,237.6 L469.4,237.7 L469.1,236.4 L468.3,235.2 L470.5,234.1 L473.0,234.8Z" fill="#6e6e6e"/>
<path d="M472.3,240.5 L470.4,240.6 L468.7,239.7 L468.0,238.7 L469.1,237.8 L470.2,238.1 L471.4,238.6Z" fill="#6e6e6e"/>
<path d="M469.9,242.1 L468.0,241.2 L467.5,239.9 L468.1,238.1 L469.4,238.5 L470.1,239.7 L470.4,240.6Z" fill="#6e6e6e"/>
<path d="M464.0,239.2 L465.2,238.3 L466.5,237.4 L469.4,238.1 L469.5,239.6 L467.1,240.2 L465.7,240.1Z" fill="#6e6e6e"/>
<path d="M323.8,520.7 L323.4,519.1 L323.7,517.6 L324.5,516.8 L325.5,517.2 L325.8,518.0 L325.0,519.8Z" fill="#6e6e6e"/>
<path d="M325.7,508.4 L324.7,508.3 L324.3,506.0 L325.1,505.6 L326.5,505.0 L327.1,506.1 L327.4,507.8Z" fill="#6e6e6e"/>
<path d="M325.0,515.1 L324.0,515.1 L323.1,514.6 L322.5,513.5 L323.2,513.0 L323.8,512.6 L325.3,514.0Z" fill="#6e6e6e"/>
<path d="M327.6,507.8 L325.1,508.7 L322.8,508.8 L321.9,507.5 L322.7,506.5 L324.7,505.7 L326.2,506.8Z" fill="#6e6e6e"/>
<path d="M324.6,514.8 L325.3,512.8 L326.2,512.5 L328.1,513.2 L328.7,515.1 L327.8,516.2 L325.9,515.5Z" fill="#6e6e6e"/>
<path d="M323.0,509.0 L322.2,508.0 L322.2,506.7 L323.0,504.9 L323.9,504.6 L325.0,507.1 L324.3,508.9Z" fill="#6e6e6e"/>
<path d="M326.9,516.8 L326.1,517.1 L324.5,516.0 L325.1,515.0 L325.6,514.0 L326.6,514.8 L327.3,516.1Z" fill="#6e6e6e"/>
<path d="M324.2,517.3 L323.6,518.8 L321.8,518.9 L320.8,517.4 L320.5,516.7 L322.2,516.1 L323.5,515.9Z" fill="#6e6e6e"/>
<path d="M313.9,546.2 L313.5,544.9 L314.4,544.0 L315.2,543.8 L316.2,543.8 L316.1,545.3 L314.8,546.6Z" fill="#6e6e6e"/>
<path d="M318.4,557.9 L317.7,557.1 L318.5,555.8 L319.4,555.0 L320.4,555.7 L320.2,557.1 L319.0,557.8Z" fill="#6e6e6e"/>
<path d="M314.2,551.7 L313.4,551.0 L312.6,550.2 L313.9,549.3 L315.1,549.5 L315.5,550.0 L315.4,551.7Z" fill="#6e6e6e"/>
<path d="M319.2,538.9 L318.6,539.3 L317.0,539.8 L316.4,538.6 L316.5,537.4 L317.4,537.1 L318.7,537.8Z" fill="#6e6e6e"/>
<path d="M319.6,552.6 L318.3,552.0 L318.0,550.0 L319.0,548.7 L319.9,549.1 L320.9,550.1 L320.9,551.6Z" fill="#6e6e6e"/>
<path d="M316.4,550.4 L314.7,550.7 L313.0,550.8 L312.2,549.6 L313.3,548.3 L314.5,547.6 L316.2,548.7Z" fill="#6e6e6e"/>
<path d="M314.4,554.5 L314.8,553.4 L315.4,552.3 L316.2,551.9 L317.1,552.5 L317.1,553.6 L316.2,554.4Z" fill="#6e6e6e"/>
<path d="M321.9,552.0 L320.0,552.0 L318.6,552.7 L317.7,550.7 L317.7,548.7 L319.6,549.2 L321.9,550.2Z" fill="#6e6e6e"/>
<path d="M503.0,138.7 L511.3,137.0 L521.4,140.4 L524.8,145.5 L514.7,147.0 L504.6,143.8Z" fill="#3dba3d" stroke="#6e6e6e" stroke-width="1.4"/>
<path d="M481.0,159.0 L487.7,154.5 L496.0,155.6 L499.5,164.0 L496.0,172.4 L487.7,172.4 L481.0,167.3Z" fill="#3dba3d" stroke="#6e6e6e" stroke-width="1.4"/>
<path d="M471.0,180.8 L477.6,176.8 L487.7,179.1 L497.8,184.2 L506.3,191.0 L511.3,199.3 L509.6,207.7 L501.2,211.1 L491.1,207.7 L481.0,206.0 L474.3,201.0 L470.2,190.9Z" fill="#3dba3d" stroke="#6e6e6e" stroke-width="1.4"/>
<path d="M481.0,226.0 L487.0,223.0 L494.0,228.0 L496.0,236.0 L490.0,241.0 L483.0,237.0Z" fill="#3dba3d" stroke="#6e6e6e" stroke-width="1.4"/>
<path d="M453.0,186.0 L458.0,183.5 L463.0,186.0 L464.5,194.0 L462.0,200.0 L456.0,200.5 L453.0,195.0Z" fill="#61b8ff" stroke="#6e6e6e" stroke-width="1.5"/>
</g>
<g class="t n" font-size="10.5" text-anchor="middle">
<text x="227.2" y="60.3">17</text>
<text x="227.2" y="73.3">16</text>
<text x="227.2" y="86.3">18</text>
<text x="249.6" y="86.3">19</text>
<text x="339.0" y="86.3">16</text>
<text x="227.2" y="99.4">18</text>
<text x="249.6" y="99.4">18</text>
<text x="272.0" y="99.4">17</text>
<text x="339.0" y="99.4">17</text>
<text x="361.4" y="99.4">15</text>
<text x="204.9" y="112.4">16</text>
<text x="227.2" y="112.4">17</text>
<text x="249.6" y="112.4">17</text>
<text x="272.0" y="112.4">16</text>
<text x="294.3" y="112.4">15</text>
<text x="316.7" y="112.4">15</text>
<text x="339.0" y="112.4">17</text>
<text x="361.4" y="112.4">15</text>
<text x="204.9" y="125.5">15</text>
<text x="227.2" y="125.5">17</text>
<text x="249.6" y="125.5">17</text>
<text x="272.0" y="125.5">16</text>
<text x="294.3" y="125.5">15</text>
<text x="316.7" y="125.5">14</text>
<text x="339.0" y="125.5">16</text>
<text x="204.9" y="138.5">18</text>
<text x="227.2" y="138.5">16</text>
<text x="249.6" y="138.5">15</text>
<text x="272.0" y="138.5">16</text>
<text x="294.3" y="138.5">14</text>
<text x="316.7" y="138.5">15</text>
<text x="339.0" y="138.5">14</text>
<text x="204.9" y="151.3">16</text>
<text x="227.2" y="151.3">14</text>
<text x="249.6" y="151.3">13</text>
<text x="272.0" y="151.3">15</text>
<text x="294.3" y="151.3">14</text>
<text x="316.7" y="151.3">14</text>
<text x="339.0" y="151.3">14</text>
<text x="182.5" y="164.1">15</text>
<text x="204.9" y="164.1">13</text>
<text x="227.2" y="164.1">12</text>
<text x="249.6" y="164.1">15</text>
<text x="272.0" y="164.1">13</text>
<text x="294.3" y="164.1">13</text>
<text x="316.7" y="164.1">14</text>
<text x="339.0" y="164.1">14</text>
<text x="137.8" y="177.0">17</text>
<text x="160.2" y="177.0">16</text>
<text x="182.5" y="177.0">13</text>
<text x="204.9" y="177.0">12</text>
<text x="227.2" y="177.0">13</text>
<text x="249.6" y="177.0">16</text>
<text x="272.0" y="177.0">13</text>
<text x="294.3" y="177.0">14</text>
<text x="316.7" y="177.0">15</text>
<text x="339.0" y="177.0">17</text>
<text x="361.4" y="177.0">18</text>
<text x="383.8" y="177.0">19</text>
<text x="406.1" y="177.0">20</text>
<text x="137.8" y="189.8">16</text>
<text x="160.2" y="189.8">15</text>
<text x="182.5" y="189.8">13</text>
<text x="204.9" y="189.8">13</text>
<text x="227.2" y="189.8">15</text>
<text x="249.6" y="189.8">17</text>
<text x="272.0" y="189.8">17</text>
<text x="294.3" y="189.8">17</text>
<text x="316.7" y="189.8">20</text>
<text x="339.0" y="189.8">22</text>
<text x="361.4" y="189.8">22</text>
<text x="383.8" y="189.8">24</text>
<text x="406.1" y="189.8">26</text>
<text x="137.8" y="202.6">16</text>
<text x="160.2" y="202.6">15</text>
<text x="182.5" y="202.6">13</text>
<text x="204.9" y="202.6">15</text>
<text x="227.2" y="202.6">17</text>
<text x="249.6" y="202.6">20</text>
<text x="272.0" y="202.6">21</text>
<text x="294.3" y="202.6">23</text>
<text x="316.7" y="202.6">26</text>
<text x="339.0" y="202.6">27</text>
<text x="361.4" y="202.6">29</text>
<text x="383.8" y="202.6">32</text>
<text x="406.1" y="202.6">36</text>
<text x="495.6" y="202.6">22</text>
<text x="137.8" y="215.4">18</text>
<text x="160.2" y="215.4">16</text>
<text x="182.5" y="215.4">18</text>
<text x="204.9" y="215.4">22</text>
<text x="227.2" y="215.4">24</text>
<text x="249.6" y="215.4">27</text>
<text x="272.0" y="215.4">27</text>
<text x="294.3" y="215.4">34</text>
<text x="316.7" y="215.4">38</text>
<text x="339.0" y="215.4">38</text>
<text x="361.4" y="215.4">38</text>
<text x="383.8" y="215.4">38</text>
<text x="406.1" y="215.4">38</text>
<text x="428.5" y="215.4">40</text>
<text x="137.8" y="228.2">19</text>
<text x="160.2" y="228.2">19</text>
<text x="182.5" y="228.2">23</text>
<text x="204.9" y="228.2">27</text>
<text x="227.2" y="228.2">30</text>
<text x="249.6" y="228.2">39</text>
<text x="272.0" y="228.2">42</text>
<text x="294.3" y="228.2">47</text>
<text x="316.7" y="228.2" class="d">51</text>
<text x="339.0" y="228.2">46</text>
<text x="361.4" y="228.2">47</text>
<text x="383.8" y="228.2">44</text>
<text x="406.1" y="228.2">42</text>
<text x="428.5" y="228.2">40</text>
<text x="450.8" y="228.2">34</text>
<text x="137.8" y="240.9">21</text>
<text x="160.2" y="240.9">22</text>
<text x="182.5" y="240.9">27</text>
<text x="204.9" y="240.9">34</text>
<text x="227.2" y="240.9">42</text>
<text x="249.6" y="240.9" class="d">58</text>
<text x="272.0" y="240.9" class="d">59</text>
<text x="294.3" y="240.9" class="d">62</text>
<text x="316.7" y="240.9" class="d">60</text>
<text x="339.0" y="240.9" class="d">56</text>
<text x="361.4" y="240.9" class="d">53</text>
<text x="383.8" y="240.9">46</text>
<text x="406.1" y="240.9">42</text>
<text x="428.5" y="240.9">39</text>
<text x="115.4" y="253.7">26</text>
<text x="137.8" y="253.7">25</text>
<text x="160.2" y="253.7">29</text>
<text x="182.5" y="253.7">36</text>
<text x="204.9" y="253.7">42</text>
<text x="227.2" y="253.7" class="d">53</text>
<text x="249.6" y="253.7" class="d">61</text>
<text x="272.0" y="253.7" class="d">63</text>
<text x="294.3" y="253.7" class="d">61</text>
<text x="316.7" y="253.7" class="d">55</text>
<text x="339.0" y="253.7" class="d">52</text>
<text x="361.4" y="253.7" class="d">48</text>
<text x="383.8" y="253.7">43</text>
<text x="406.1" y="253.7">37</text>
<text x="428.5" y="253.7">36</text>
<text x="93.1" y="266.5">30</text>
<text x="115.4" y="266.5">27</text>
<text x="137.8" y="266.5">38</text>
<text x="160.2" y="266.5">40</text>
<text x="182.5" y="266.5">48</text>
<text x="204.9" y="266.5" class="d">55</text>
<text x="227.2" y="266.5" class="d">60</text>
<text x="249.6" y="266.5" class="d">62</text>
<text x="272.0" y="266.5" class="d">58</text>
<text x="294.3" y="266.5" class="d">50</text>
<text x="316.7" y="266.5">49</text>
<text x="339.0" y="266.5">45</text>
<text x="361.4" y="266.5">45</text>
<text x="383.8" y="266.5">41</text>
<text x="406.1" y="266.5">31</text>
<text x="70.7" y="279.3">37</text>
<text x="93.1" y="279.3">35</text>
<text x="115.4" y="279.3">39</text>
<text x="137.8" y="279.3">46</text>
<text x="160.2" y="279.3" class="d">54</text>
<text x="182.5" y="279.3" class="d">58</text>
<text x="204.9" y="279.3" class="d">57</text>
<text x="227.2" y="279.3" class="d">48</text>
<text x="249.6" y="279.3">46</text>
<text x="272.0" y="279.3">47</text>
<text x="294.3" y="279.3">48</text>
<text x="316.7" y="279.3">45</text>
<text x="339.0" y="279.3">42</text>
<text x="361.4" y="279.3">38</text>
<text x="383.8" y="279.3">33</text>
<text x="406.1" y="279.3">18</text>
<text x="428.5" y="279.3">18</text>
<text x="450.8" y="279.3">18</text>
<text x="70.7" y="292.0">37</text>
<text x="93.1" y="292.0">43</text>
<text x="115.4" y="292.0">52</text>
<text x="137.8" y="292.0" class="d">56</text>
<text x="160.2" y="292.0" class="d">58</text>
<text x="182.5" y="292.0" class="d">55</text>
<text x="204.9" y="292.0">50</text>
<text x="227.2" y="292.0">44</text>
<text x="249.6" y="292.0">41</text>
<text x="272.0" y="292.0">41</text>
<text x="294.3" y="292.0">43</text>
<text x="316.7" y="292.0">40</text>
<text x="339.0" y="292.0">34</text>
<text x="361.4" y="292.0">22</text>
<text x="383.8" y="292.0">20</text>
<text x="406.1" y="292.0">13</text>
<text x="428.5" y="292.0">15</text>
<text x="450.8" y="292.0">14</text>
<text x="48.4" y="304.8">42</text>
<text x="70.7" y="304.8">41</text>
<text x="93.1" y="304.8">48</text>
<text x="115.4" y="304.8" class="d">55</text>
<text x="137.8" y="304.8" class="d">57</text>
<text x="160.2" y="304.8" class="d">54</text>
<text x="182.5" y="304.8">51</text>
<text x="204.9" y="304.8">44</text>
<text x="227.2" y="304.8">40</text>
<text x="249.6" y="304.8">39</text>
<text x="272.0" y="304.8">37</text>
<text x="294.3" y="304.8">38</text>
<text x="316.7" y="304.8">35</text>
<text x="339.0" y="304.8">20</text>
<text x="361.4" y="304.8">14</text>
<text x="383.8" y="304.8">15</text>
<text x="406.1" y="304.8">9</text>
<text x="428.5" y="304.8">13</text>
<text x="48.4" y="317.5">52</text>
<text x="70.7" y="317.5">49</text>
<text x="93.1" y="317.5" class="d">56</text>
<text x="115.4" y="317.5" class="d">60</text>
<text x="137.8" y="317.5" class="d">58</text>
<text x="160.2" y="317.5">48</text>
<text x="182.5" y="317.5">43</text>
<text x="204.9" y="317.5">39</text>
<text x="227.2" y="317.5">38</text>
<text x="249.6" y="317.5">38</text>
<text x="272.0" y="317.5">36</text>
<text x="294.3" y="317.5">35</text>
<text x="316.7" y="317.5">31</text>
<text x="339.0" y="317.5">12</text>
<text x="361.4" y="317.5">10</text>
<text x="383.8" y="317.5">11</text>
<text x="406.1" y="317.5">6</text>
<text x="70.7" y="330.3" class="d">58</text>
<text x="93.1" y="330.3" class="d">62</text>
<text x="115.4" y="330.3" class="d">61</text>
<text x="137.8" y="330.3">43</text>
<text x="160.2" y="330.3">40</text>
<text x="182.5" y="330.3">38</text>
<text x="204.9" y="330.3">39</text>
<text x="227.2" y="330.3">38</text>
<text x="249.6" y="330.3">36</text>
<text x="272.0" y="330.3">37</text>
<text x="294.3" y="330.3">33</text>
<text x="316.7" y="330.3">31</text>
<text x="339.0" y="330.3">8</text>
<text x="361.4" y="330.3">8</text>
<text x="383.8" y="330.3">7</text>
<text x="406.1" y="330.3">4</text>
<text x="428.5" y="330.3">4</text>
<text x="93.1" y="343.0" class="d">63</text>
<text x="115.4" y="343.0" class="d">64</text>
<text x="137.8" y="343.0" class="d">59</text>
<text x="160.2" y="343.0">43</text>
<text x="182.5" y="343.0">39</text>
<text x="204.9" y="343.0">45</text>
<text x="227.2" y="343.0">43</text>
<text x="249.6" y="343.0">42</text>
<text x="272.0" y="343.0">37</text>
<text x="294.3" y="343.0">36</text>
<text x="316.7" y="343.0">31</text>
<text x="339.0" y="343.0">6</text>
<text x="361.4" y="343.0">6</text>
<text x="383.8" y="343.0">5</text>
<text x="406.1" y="343.0">3</text>
<text x="428.5" y="343.0">4</text>
<text x="93.1" y="355.7" class="d">62</text>
<text x="115.4" y="355.7" class="d">60</text>
<text x="137.8" y="355.7" class="d">57</text>
<text x="160.2" y="355.7">48</text>
<text x="182.5" y="355.7">40</text>
<text x="204.9" y="355.7">46</text>
<text x="227.2" y="355.7">42</text>
<text x="249.6" y="355.7">39</text>
<text x="272.0" y="355.7">34</text>
<text x="294.3" y="355.7">9</text>
<text x="316.7" y="355.7">6</text>
<text x="339.0" y="355.7">4</text>
<text x="361.4" y="355.7">6</text>
<text x="383.8" y="355.7">3</text>
<text x="406.1" y="355.7">2</text>
<text x="428.5" y="355.7">2</text>
<text x="93.1" y="368.3" class="d">58</text>
<text x="115.4" y="368.3" class="d">56</text>
<text x="137.8" y="368.3" class="d">53</text>
<text x="160.2" y="368.3">48</text>
<text x="182.5" y="368.3">38</text>
<text x="204.9" y="368.3">43</text>
<text x="227.2" y="368.3">40</text>
<text x="249.6" y="368.3">12</text>
<text x="272.0" y="368.3">8</text>
<text x="294.3" y="368.3">7</text>
<text x="316.7" y="368.3">5</text>
<text x="339.0" y="368.3">3</text>
<text x="361.4" y="368.3">4</text>
<text x="383.8" y="368.3">2</text>
<text x="406.1" y="368.3">2</text>
<text x="93.1" y="381.0" class="d">54</text>
<text x="115.4" y="381.0" class="d">51</text>
<text x="137.8" y="381.0">48</text>
<text x="160.2" y="381.0">31</text>
<text x="182.5" y="381.0">22</text>
<text x="204.9" y="381.0">38</text>
<text x="227.2" y="381.0">14</text>
<text x="249.6" y="381.0">9</text>
<text x="272.0" y="381.0">6</text>
<text x="294.3" y="381.0">4</text>
<text x="316.7" y="381.0">3</text>
<text x="339.0" y="381.0">2</text>
<text x="361.4" y="381.0">2</text>
<text x="383.8" y="381.0">2</text>
<text x="406.1" y="381.0">1</text>
<text x="93.1" y="393.7">47</text>
<text x="115.4" y="393.7">36</text>
<text x="137.8" y="393.7">29</text>
<text x="160.2" y="393.7">27</text>
<text x="182.5" y="393.7">19</text>
<text x="204.9" y="393.7">13</text>
<text x="227.2" y="393.7">12</text>
<text x="249.6" y="393.7">6</text>
<text x="272.0" y="393.7">6</text>
<text x="294.3" y="393.7">3</text>
<text x="316.7" y="393.7">2</text>
<text x="339.0" y="393.7">2</text>
<text x="361.4" y="393.7">1</text>
<text x="383.8" y="393.7">2</text>
<text x="406.1" y="393.7">1</text>
<text x="93.1" y="406.4">39</text>
<text x="115.4" y="406.4">32</text>
<text x="137.8" y="406.4">22</text>
<text x="160.2" y="406.4">25</text>
<text x="182.5" y="406.4">19</text>
<text x="204.9" y="406.4">13</text>
<text x="227.2" y="406.4">11</text>
<text x="249.6" y="406.4">9</text>
<text x="272.0" y="406.4">6</text>
<text x="294.3" y="406.4">4</text>
<text x="316.7" y="406.4">3</text>
<text x="339.0" y="406.4">3</text>
<text x="361.4" y="406.4">3</text>
<text x="383.8" y="406.4">3</text>
<text x="406.1" y="406.4">2</text>
<text x="137.8" y="419.0">22</text>
<text x="160.2" y="419.0">22</text>
<text x="182.5" y="419.0">18</text>
<text x="204.9" y="419.0">14</text>
<text x="227.2" y="419.0">11</text>
<text x="249.6" y="419.0">9</text>
<text x="272.0" y="419.0">8</text>
<text x="294.3" y="419.0">6</text>
<text x="316.7" y="419.0">5</text>
<text x="339.0" y="419.0">4</text>
<text x="361.4" y="419.0">4</text>
<text x="137.8" y="431.7">27</text>
<text x="160.2" y="431.7">20</text>
<text x="182.5" y="431.7">19</text>
<text x="204.9" y="431.7">14</text>
<text x="227.2" y="431.7">11</text>
<text x="249.6" y="431.7">9</text>
<text x="272.0" y="431.7">9</text>
<text x="294.3" y="431.7">8</text>
<text x="316.7" y="431.7">6</text>
<text x="339.0" y="431.7">4</text>
<text x="137.8" y="444.3">31</text>
<text x="160.2" y="444.3">21</text>
<text x="182.5" y="444.3">22</text>
<text x="204.9" y="444.3">13</text>
<text x="227.2" y="444.3">9</text>
<text x="249.6" y="444.3">8</text>
<text x="272.0" y="444.3">7</text>
<text x="294.3" y="444.3">8</text>
<text x="316.7" y="444.3">5</text>
<text x="339.0" y="444.3">3</text>
<text x="137.8" y="457.0">22</text>
<text x="160.2" y="457.0">23</text>
<text x="182.5" y="457.0">24</text>
<text x="204.9" y="457.0">16</text>
<text x="227.2" y="457.0">8</text>
<text x="249.6" y="457.0">7</text>
<text x="272.0" y="457.0">7</text>
<text x="294.3" y="457.0">6</text>
<text x="316.7" y="457.0">3</text>
<text x="339.0" y="457.0">3</text>
<text x="137.8" y="469.5">21</text>
<text x="160.2" y="469.5">24</text>
<text x="182.5" y="469.5">23</text>
<text x="204.9" y="469.5">12</text>
<text x="227.2" y="469.5">8</text>
<text x="249.6" y="469.5">5</text>
<text x="272.0" y="469.5">6</text>
<text x="294.3" y="469.5">4</text>
<text x="316.7" y="469.5">2</text>
<text x="137.8" y="482.1">18</text>
<text x="160.2" y="482.1">20</text>
<text x="182.5" y="482.1">15</text>
<text x="204.9" y="482.1">10</text>
<text x="227.2" y="482.1">8</text>
<text x="249.6" y="482.1">5</text>
<text x="272.0" y="482.1">4</text>
<text x="294.3" y="482.1">3</text>
<text x="316.7" y="482.1">2</text>
<text x="137.8" y="494.6">14</text>
<text x="160.2" y="494.6">15</text>
<text x="182.5" y="494.6">11</text>
<text x="227.2" y="494.6">8</text>
<text x="249.6" y="494.6">5</text>
<text x="272.0" y="494.6">3</text>
<text x="294.3" y="494.6">2</text>
<text x="316.7" y="494.6">1</text>
<text x="137.8" y="507.2">11</text>
<text x="160.2" y="507.2">11</text>
<text x="182.5" y="507.2">10</text>
<text x="227.2" y="507.2">7</text>
<text x="249.6" y="507.2">4</text>
<text x="272.0" y="507.2">2</text>
<text x="294.3" y="507.2">2</text>
<text x="160.2" y="519.7">13</text>
<text x="227.2" y="519.7">5</text>
<text x="249.6" y="519.7">2</text>
<text x="272.0" y="519.7">1</text>
</g>
<rect x="26" y="41" width="544" height="523.5" fill="none" stroke="#111" stroke-width="2"/>
<g class="t" font-size="10.5" fill="#222" stroke="#222" stroke-width="0.2" text-anchor="middle">
<text x="26.0" y="36.5">118</text>
<text x="26.0" y="576.5">118</text>
<text x="81.9" y="36.5">118.5</text>
<text x="81.9" y="576.5">118.5</text>
<text x="137.8" y="36.5">119</text>
<text x="137.8" y="576.5">119</text>
<text x="193.7" y="36.5">119.5</text>
<text x="193.7" y="576.5">119.5</text>
<text x="249.6" y="36.5">120</text>
<text x="249.6" y="576.5">120</text>
<text x="305.5" y="36.5">120.5</text>
<text x="305.5" y="576.5">120.5</text>
<text x="361.4" y="36.5">121</text>
<text x="361.4" y="576.5">121</text>
<text x="417.3" y="36.5">121.5</text>
<text x="417.3" y="576.5">121.5</text>
<text x="473.2" y="36.5">122</text>
<text x="473.2" y="576.5">122</text>
<text x="529.1" y="36.5">122.5</text>
<text x="529.1" y="576.5">122.5</text>
</g>
<g class="t" font-size="10.5" fill="#222" stroke="#222" stroke-width="0.2">
<text x="21.5" y="72.8" text-anchor="end">31</text>
<text x="575" y="72.8">31</text>
<text x="21.5" y="138.0" text-anchor="end">30.5</text>
<text x="575" y="138.0">30.5</text>
<text x="21.5" y="202.1" text-anchor="end">30</text>
<text x="575" y="202.1">30</text>
<text x="21.5" y="266.0" text-anchor="end">29.5</text>
<text x="575" y="266.0">29.5</text>
<text x="21.5" y="329.8" text-anchor="end">29</text>
<text x="575" y="329.8">29</text>
<text x="21.5" y="393.2" text-anchor="end">28.5</text>
<text x="575" y="393.2">28.5</text>
<text x="21.5" y="456.5" text-anchor="end">28</text>
<text x="575" y="456.5">28</text>
<text x="21.5" y="519.2" text-anchor="end">27.5</text>
<text x="575" y="519.2">27.5</text>
</g>
<text class="t" x="89" y="22.5" font-size="16.2" fill="#111" stroke="#111" stroke-width="0.3">2020年05月25日08时至05月26日08时24小时累计雨量预报</text>
<rect x="517" y="410.5" width="52" height="150" fill="#fff" stroke="#b0b0b0" stroke-width="1"/>
<rect x="525.5" y="418.30" width="13.2" height="17.55" fill="#ee0000"/>
<rect x="525.5" y="435.55" width="13.2" height="17.55" fill="#7a0044"/>
<rect x="525.5" y="452.80" width="13.2" height="17.55" fill="#fa00fa"/>
<rect x="525.5" y="470.05" width="13.2" height="17.55" fill="#0000e1"/>
<rect x="525.5" y="487.30" width="13.2" height="17.55" fill="#61b8ff"/>
<rect x="525.5" y="504.55" width="13.2" height="17.55" fill="#3dba3d"/>
<rect x="525.5" y="521.80" width="13.2" height="17.55" fill="#a6f28f"/>
<rect x="525.5" y="539.05" width="13.2" height="17.55" fill="#ffffff"/>
<line x1="525.5" x2="538.7" y1="435.55" y2="435.55" stroke="#333" stroke-opacity="0.5" stroke-width="0.6"/>
<line x1="525.5" x2="538.7" y1="452.80" y2="452.80" stroke="#333" stroke-opacity="0.5" stroke-width="0.6"/>
<line x1="525.5" x2="538.7" y1="470.05" y2="470.05" stroke="#333" stroke-opacity="0.5" stroke-width="0.6"/>
<line x1="525.5" x2="538.7" y1="487.30" y2="487.30" stroke="#333" stroke-opacity="0.5" stroke-width="0.6"/>
<line x1="525.5" x2="538.7" y1="504.55" y2="504.55" stroke="#333" stroke-opacity="0.5" stroke-width="0.6"/>
<line x1="525.5" x2="538.7" y1="521.80" y2="521.80" stroke="#333" stroke-opacity="0.5" stroke-width="0.6"/>
<line x1="525.5" x2="538.7" y1="539.05" y2="539.05" stroke="#333" stroke-opacity="0.5" stroke-width="0.6"/>
<rect x="525.5" y="418.30" width="13.2" height="138.00" fill="none" stroke="#222" stroke-width="0.9"/>
<g class="t" font-size="10.5" fill="#222">
<text x="542.2" y="439.9">400</text>
<text x="542.2" y="457.2">250</text>
<text x="542.2" y="474.4">100</text>
<text x="542.2" y="491.7">50</text>
<text x="542.2" y="508.9">25</text>
<text x="542.2" y="526.2">10</text>
<text x="542.2" y="543.4">0.1</text>
</g>
<text class="t" x="26" y="591" font-size="12" fill="#222">单位：毫米</text>
<text class="t" x="401" y="591" font-size="12.3" fill="#222">浙江省气象台 05月24日06 发布</text>
<g opacity="0.85"><text class="t" x="524" y="573" font-size="14" fill="#fff" stroke="#9a9a9a" stroke-width="0.7">浙江天气</text>
<ellipse cx="503" cy="563" rx="7" ry="5.5" fill="#fff" stroke="#aaa" stroke-width="0.8"/><ellipse cx="510" cy="568" rx="5.5" ry="4.5" fill="#fff" stroke="#aaa" stroke-width="0.8"/></g>
</svg></body></html>
